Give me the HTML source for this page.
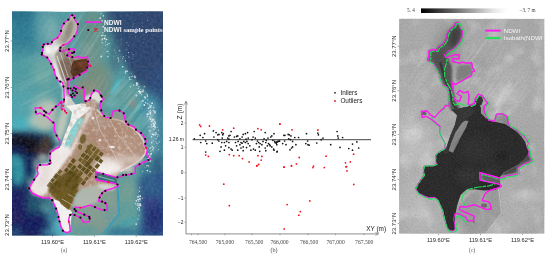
<!DOCTYPE html>
<html><head><meta charset="utf-8"><title>Figure</title>
<style>
html,body{margin:0;padding:0;background:#fff;}
body{width:550px;height:259px;overflow:hidden;font-family:"Liberation Sans",sans-serif;}
svg{display:block;}
text{font-family:"Liberation Sans",sans-serif;}
.ser{font-family:"Liberation Serif",serif;}
</style></head><body>
<svg width="550" height="259" viewBox="0 0 550 259">
<defs>
<filter id="b1" x="-50%" y="-50%" width="200%" height="200%"><feGaussianBlur stdDeviation="1"/></filter>
<filter id="b2" x="-50%" y="-50%" width="200%" height="200%"><feGaussianBlur stdDeviation="2"/></filter>
<filter id="b3" x="-50%" y="-50%" width="200%" height="200%"><feGaussianBlur stdDeviation="3"/></filter>
<filter id="b5" x="-50%" y="-50%" width="200%" height="200%"><feGaussianBlur stdDeviation="5"/></filter>
<filter id="b8" x="-50%" y="-50%" width="200%" height="200%"><feGaussianBlur stdDeviation="8"/></filter>
<filter id="b05" x="-50%" y="-50%" width="200%" height="200%"><feGaussianBlur stdDeviation="0.5"/></filter>
<filter id="noiseA" x="0" y="0" width="100%" height="100%"><feTurbulence type="fractalNoise" baseFrequency="0.35" numOctaves="3" seed="3"/><feColorMatrix type="matrix" values="0 0 0 0 0.5  0 0 0 0 0.5  0 0 0 0 0.5  1.2 0 0 0 -0.35"/></filter>
<filter id="noiseC" x="0" y="0" width="100%" height="100%"><feTurbulence type="fractalNoise" baseFrequency="0.6" numOctaves="2" seed="11"/><feColorMatrix type="matrix" values="0 0 0 0 1  0 0 0 0 1  0 0 0 0 1  1.4 0 0 0 -0.55"/></filter>
<filter id="noiseD" x="0" y="0" width="100%" height="100%"><feTurbulence type="fractalNoise" baseFrequency="0.6" numOctaves="2" seed="5"/><feColorMatrix type="matrix" values="0 0 0 0 0  0 0 0 0 0  0 0 0 0 0  1.4 0 0 0 -0.55"/></filter>
<filter id="streak" x="0" y="0" width="100%" height="100%"><feTurbulence type="fractalNoise" baseFrequency="0.012 0.30" numOctaves="2" seed="8"/><feColorMatrix type="matrix" values="0 0 0 0 0.92  0 0 0 0 0.96  0 0 0 0 0.94  2.6 0 0 0 -1.15"/></filter>
<filter id="streakD" x="0" y="0" width="100%" height="100%"><feTurbulence type="fractalNoise" baseFrequency="0.015 0.35" numOctaves="2" seed="4"/><feColorMatrix type="matrix" values="0 0 0 0 0.80  0 0 0 0 0.92  0 0 0 0 0.90  2.6 0 0 0 -1.2"/></filter>
<mask id="mStreak"><rect width="550" height="259" fill="#000"/><ellipse cx="82" cy="40" rx="22" ry="26" fill="#fff" filter="url(#b5)"/><ellipse cx="95" cy="85" rx="14" ry="20" fill="#777" filter="url(#b5)"/><ellipse cx="50" cy="40" rx="12" ry="20" fill="#aaa" filter="url(#b5)"/></mask>
<mask id="mStreak2"><rect width="550" height="259" fill="#000"/><ellipse cx="38" cy="85" rx="22" ry="30" fill="#fff" filter="url(#b5)"/></mask>
<mask id="mStreak3"><rect width="550" height="259" fill="#000"/><ellipse cx="126" cy="98" rx="16" ry="18" fill="#fff" filter="url(#b5)"/><ellipse cx="140" cy="120" rx="16" ry="14" fill="#ccc" filter="url(#b5)"/></mask>
<filter id="mottleLand" x="0" y="0" width="100%" height="100%"><feTurbulence type="fractalNoise" baseFrequency="0.22" numOctaves="3" seed="9"/><feColorMatrix type="matrix" values="0 0 0 0 0.42  0 0 0 0 0.30  0 0 0 0 0.22  2.4 0 0 0 -1.05"/></filter>
<filter id="mottleLandW" x="0" y="0" width="100%" height="100%"><feTurbulence type="fractalNoise" baseFrequency="0.28" numOctaves="3" seed="31"/><feColorMatrix type="matrix" values="0 0 0 0 0.96  0 0 0 0 0.92  0 0 0 0 0.90  2.4 0 0 0 -1.2"/></filter>
<filter id="streakK" x="0" y="0" width="100%" height="100%"><feTurbulence type="fractalNoise" baseFrequency="0.015 0.33" numOctaves="2" seed="19"/><feColorMatrix type="matrix" values="0 0 0 0 0.20  0 0 0 0 0.33  0 0 0 0 0.33  2.6 0 0 0 -1.15"/></filter>
<mask id="mStreak4"><rect width="550" height="259" fill="#000"/><ellipse cx="97" cy="72" rx="15" ry="32" fill="#fff" filter="url(#b5)"/><ellipse cx="120" cy="100" rx="16" ry="12" fill="#aaa" filter="url(#b5)"/></mask>
<clipPath id="clipA"><rect x="12" y="11.6" width="151" height="223.8"/></clipPath>
<filter id="streakC" x="0" y="0" width="100%" height="100%"><feTurbulence type="fractalNoise" baseFrequency="0.012 0.30" numOctaves="2" seed="15"/><feColorMatrix type="matrix" values="0 0 0 0 0.85  0 0 0 0 0.85  0 0 0 0 0.85  2.6 0 0 0 -1.15"/></filter>
<mask id="mStreakC"><rect width="550" height="259" fill="#000"/><ellipse cx="480" cy="60" rx="30" ry="32" fill="#fff" filter="url(#b5)"/><ellipse cx="505" cy="95" rx="22" ry="22" fill="#fff" filter="url(#b5)"/><ellipse cx="425" cy="80" rx="18" ry="28" fill="#999" filter="url(#b5)"/></mask>
<filter id="mottleW" x="0" y="0" width="100%" height="100%"><feTurbulence type="fractalNoise" baseFrequency="0.045" numOctaves="3" seed="23"/><feColorMatrix type="matrix" values="0 0 0 0 0.82  0 0 0 0 0.82  0 0 0 0 0.82  2.2 0 0 0 -1.05"/></filter>
<filter id="mottleK" x="0" y="0" width="100%" height="100%"><feTurbulence type="fractalNoise" baseFrequency="0.05" numOctaves="3" seed="41"/><feColorMatrix type="matrix" values="0 0 0 0 0.35  0 0 0 0 0.35  0 0 0 0 0.35  2.2 0 0 0 -1.1"/></filter>
<clipPath id="clipLand"><polygon points="57.0,149.0 61.0,146.0 65.0,134.0 70.0,122.0 74.0,110.0 76.0,105.0 81.0,103.5 84.0,103.0 85.5,101.0 88.0,99.6 90.5,102.0 92.0,99.8 95.0,100.0 97.0,104.0 97.0,110.0 102.0,115.0 108.0,118.0 115.0,119.5 122.0,121.0 128.0,125.0 134.0,129.0 139.0,134.0 143.0,140.0 145.0,146.0 146.5,150.0 145.0,154.0 142.0,158.0 135.0,163.5 128.0,167.5 121.0,171.0 117.0,176.0 116.0,182.0 117.0,186.0 112.0,190.0 100.0,190.5 90.0,189.0 82.0,189.5 76.0,195.0 72.5,205.0 70.5,215.0 70.0,222.0 70.0,231.0 67.0,232.6 63.0,231.0 61.0,227.0 59.0,220.0 57.0,211.0 54.6,205.0 52.0,200.0 49.0,197.6 43.0,198.0 38.0,196.0 32.0,193.0 29.0,188.0 31.0,184.0 35.0,178.0 38.0,174.0 37.0,169.0 38.0,165.0 47.0,164.7 51.0,163.0 50.0,160.0 50.0,153.0 55.0,149.0"/></clipPath>
<clipPath id="clipC"><rect x="399.1" y="18.8" width="145.4" height="214.9"/></clipPath>
<linearGradient id="cbar" x1="0" x2="1" y1="0" y2="0"><stop offset="0" stop-color="#000"/><stop offset="0.85" stop-color="#e8e8e8"/><stop offset="1" stop-color="#fff"/></linearGradient>
</defs>
<rect width="550" height="259" fill="#fff"/>
<g clip-path="url(#clipA)">
<rect x="12" y="11.6" width="151" height="223.8" fill="#4f9aa0"/>
<ellipse cx="22" cy="28" rx="22" ry="32" fill="#2a7a92" filter="url(#b8)" opacity="1"/>
<ellipse cx="16" cy="14" rx="18" ry="8" fill="#236d88" filter="url(#b5)" opacity="1"/>
<ellipse cx="46" cy="28" rx="10" ry="22" fill="#5a9ea6" filter="url(#b5)" opacity="1"/>
<ellipse cx="52" cy="30" rx="6" ry="12" fill="#78aeb0" filter="url(#b3)" opacity="0.8"/>
<ellipse cx="24" cy="70" rx="16" ry="18" fill="#4a9aa0" filter="url(#b8)" opacity="1"/>
<ellipse cx="44" cy="72" rx="12" ry="16" fill="#66a6a2" filter="url(#b5)" opacity="1"/>
<ellipse cx="24" cy="104" rx="14" ry="14" fill="#50a2aa" filter="url(#b5)" opacity="1"/>
<ellipse cx="44" cy="104" rx="10" ry="10" fill="#80b0a8" filter="url(#b5)" opacity="1"/>
<ellipse cx="20" cy="124" rx="10" ry="9" fill="#45aebc" filter="url(#b3)" opacity="1"/>
<ellipse cx="40" cy="121" rx="12" ry="7" fill="#a8c8c0" filter="url(#b3)" opacity="1"/>
<ellipse cx="14" cy="105" rx="4" ry="14" fill="#4aa4b0" filter="url(#b3)" opacity="0.7"/>
<ellipse cx="92" cy="36" rx="13" ry="30" fill="#5f8e86" filter="url(#b5)" opacity="1"/>
<ellipse cx="86" cy="50" rx="8" ry="8" fill="#7a9c94" filter="url(#b3)" opacity="0.7"/>
<ellipse cx="97" cy="84" rx="15" ry="24" fill="#6f8c7c" filter="url(#b5)" opacity="1"/>
<ellipse cx="86" cy="89" rx="12" ry="10" fill="#828c7a" filter="url(#b3)" opacity="1"/>
<polygon points="104.0,5.0 170.0,5.0 170.0,112.0 152.0,100.0 136.0,84.0 124.0,62.0 113.0,38.0" fill="#2a4670" filter="url(#b3)" opacity="1" />
<ellipse cx="150" cy="40" rx="22" ry="40" fill="#29436c" filter="url(#b8)" opacity="1"/>
<ellipse cx="158" cy="90" rx="10" ry="26" fill="#2a4a78" filter="url(#b5)" opacity="1"/>
<ellipse cx="115" cy="55" rx="6" ry="18" fill="#3a6478" filter="url(#b3)" opacity="0.7"/>
<ellipse cx="109" cy="25" rx="5" ry="14" fill="#3a6076" filter="url(#b3)" opacity="0.7"/>
<ellipse cx="128" cy="100" rx="20" ry="16" fill="#5a9a9a" filter="url(#b5)" opacity="1"/>
<ellipse cx="150" cy="108" rx="12" ry="14" fill="#3a88a0" filter="url(#b5)" opacity="1"/>
<ellipse cx="116" cy="86" rx="2.2" ry="9" fill="#3ab0c0" filter="url(#b1)" opacity="0.95" transform="rotate(28 116 86)"/>
<ellipse cx="133" cy="104" rx="5" ry="4" fill="#8a8c82" filter="url(#b2)" opacity="0.85"/>
<ellipse cx="139" cy="106" rx="2" ry="6" fill="#4ab4c0" filter="url(#b1)" opacity="0.7" transform="rotate(20 139 106)"/>
<ellipse cx="112" cy="104" rx="8" ry="5" fill="#6fb4b4" filter="url(#b2)" opacity="0.6"/>
<ellipse cx="122" cy="112" rx="10" ry="5" fill="#4a9ca4" filter="url(#b3)" opacity="0.9"/>
<ellipse cx="140" cy="124" rx="8" ry="8" fill="#3a9098" filter="url(#b3)" opacity="1"/>
<ellipse cx="152" cy="135" rx="6" ry="20" fill="#5a9aa8" filter="url(#b3)" opacity="1"/>
<ellipse cx="153.5" cy="128" rx="3.5" ry="26" fill="#9cbcc6" filter="url(#b2)" opacity="0.55" transform="rotate(-6 153.5 128)"/>
<ellipse cx="160" cy="140" rx="4" ry="30" fill="#3a7a98" filter="url(#b3)" opacity="1"/>
<ellipse cx="147" cy="165" rx="7" ry="14" fill="#3a7a90" filter="url(#b3)" opacity="1"/>
<ellipse cx="158" cy="170" rx="6" ry="16" fill="#2a5a80" filter="url(#b3)" opacity="1"/>
<ellipse cx="128" cy="171" rx="9" ry="5" fill="#7a9a90" filter="url(#b2)" opacity="1"/>
<ellipse cx="127" cy="192" rx="11" ry="16" fill="#6f9c92" filter="url(#b5)" opacity="1"/>
<ellipse cx="127" cy="216" rx="11" ry="12" fill="#5f9c98" filter="url(#b5)" opacity="1"/>
<polygon points="139.0,178.0 170.0,172.0 170.0,240.0 136.0,240.0 143.0,216.0 140.0,198.0" fill="#2a4f86" filter="url(#b3)" opacity="1" />
<ellipse cx="152" cy="186" rx="10" ry="12" fill="#2a5a88" filter="url(#b5)" opacity="1"/>
<ellipse cx="155" cy="218" rx="10" ry="16" fill="#1a2a70" filter="url(#b5)" opacity="1"/>
<ellipse cx="150" cy="203" rx="8" ry="6" fill="#343a82" filter="url(#b3)" opacity="0.7"/>
<ellipse cx="122" cy="232" rx="18" ry="4" fill="#2a6a90" filter="url(#b3)" opacity="0.9"/>
<ellipse cx="128" cy="222" rx="10" ry="2.5" fill="#3aa0b0" filter="url(#b2)" opacity="0.8" transform="rotate(-20 128 222)"/>
<polygon points="5.0,133.0 30.0,133.0 44.0,134.0 52.0,138.0 56.0,150.0 48.0,158.0 40.0,160.0 34.0,170.0 30.0,186.0 30.0,196.0 50.0,200.0 56.0,215.0 60.0,240.0 5.0,240.0" fill="#142c58" filter="url(#b3)" opacity="1" />
<ellipse cx="26" cy="145" rx="16" ry="9" fill="#070c14" filter="url(#b3)" opacity="1"/>
<ellipse cx="16" cy="141" rx="7" ry="6" fill="#090f1a" filter="url(#b3)" opacity="1"/>
<ellipse cx="18" cy="150" rx="8" ry="5" fill="#101c58" filter="url(#b3)" opacity="0.9"/>
<ellipse cx="46" cy="144" rx="6" ry="8" fill="#4a3a28" filter="url(#b3)" opacity="0.9"/>
<ellipse cx="42" cy="152" rx="8" ry="4" fill="#5a2c20" filter="url(#b3)" opacity="0.7"/>
<ellipse cx="18" cy="171" rx="8" ry="16" fill="#2c909e" filter="url(#b3)" opacity="1"/>
<ellipse cx="14" cy="160" rx="4" ry="6" fill="#3a9aa8" filter="url(#b2)" opacity="0.8"/>
<ellipse cx="29" cy="165" rx="3.5" ry="10" fill="#102858" filter="url(#b2)" opacity="0.9"/>
<ellipse cx="36" cy="164" rx="3" ry="6" fill="#8a9a98" filter="url(#b2)" opacity="0.8"/>
<ellipse cx="43" cy="158" rx="5.5" ry="4.5" fill="#98a6a4" filter="url(#b2)" opacity="0.9"/>
<ellipse cx="30" cy="183" rx="2.5" ry="5" fill="#6a9a98" filter="url(#b2)" opacity="0.8"/>
<ellipse cx="19" cy="203" rx="10" ry="13" fill="#15175c" filter="url(#b5)" opacity="1"/>
<ellipse cx="34" cy="205" rx="7" ry="10" fill="#1a5a70" filter="url(#b5)" opacity="1"/>
<ellipse cx="46" cy="208" rx="6" ry="8" fill="#4a8a90" filter="url(#b3)" opacity="1"/>
<ellipse cx="34" cy="226" rx="18" ry="10" fill="#10175a" filter="url(#b5)" opacity="1"/>
<ellipse cx="17" cy="218" rx="5" ry="5" fill="#301860" filter="url(#b3)" opacity="0.7"/>
<ellipse cx="50" cy="219" rx="5" ry="5" fill="#2a6a80" filter="url(#b3)" opacity="0.8"/>
<ellipse cx="16" cy="232" rx="6" ry="4" fill="#2a5a80" filter="url(#b3)" opacity="0.8"/>
<ellipse cx="46" cy="117" rx="11" ry="13" fill="#b4bcac" filter="url(#b3)" opacity="0.95"/>
<ellipse cx="50" cy="107" rx="8" ry="5" fill="#c2c8b8" filter="url(#b3)" opacity="0.9"/>
<ellipse cx="38" cy="110" rx="6" ry="5" fill="#a8c4b8" filter="url(#b3)" opacity="0.8"/>
<ellipse cx="62" cy="124" rx="5" ry="18" fill="#c4cabb" filter="url(#b2)" opacity="0.95" transform="rotate(14 62 124)"/>
<ellipse cx="66" cy="110" rx="5" ry="6" fill="#b8c4b6" filter="url(#b2)" opacity="0.9"/>
<ellipse cx="62" cy="227" rx="11" ry="11" fill="#52b0bd" filter="url(#b3)" opacity="1"/>
<ellipse cx="52" cy="214" rx="4" ry="10" fill="#3f94a8" filter="url(#b3)" opacity="0.8"/>
<ellipse cx="50" cy="232" rx="10" ry="4" fill="#3f9ab0" filter="url(#b3)" opacity="0.8"/>
<polygon points="72.0,205.0 100.0,186.0 117.0,186.0 119.0,214.0 105.0,233.0 75.0,240.0 72.0,232.0" fill="#7f9a8e" filter="url(#b2)" opacity="1" />
<ellipse cx="95" cy="204" rx="20" ry="14" fill="#829c90" filter="url(#b3)" opacity="1"/>
<ellipse cx="88" cy="200" rx="12" ry="5" fill="#98aea6" filter="url(#b2)" opacity="0.8"/>
<ellipse cx="110" cy="215" rx="6" ry="10" fill="#6a9a98" filter="url(#b3)" opacity="0.8"/>
<ellipse cx="85" cy="231" rx="14" ry="5" fill="#5a9a9a" filter="url(#b3)" opacity="0.9"/>
<polyline points="117.5,186.0 119.0,214.0 104.0,233.0" fill="none" stroke="#3a9ab0" stroke-width="2.2" stroke-linecap="round" stroke-linejoin="round" filter="url(#b05)" opacity="1"/>
<g mask="url(#mStreak)"><rect x="-120" y="-120" width="400" height="400" filter="url(#streak)" transform="rotate(-58 70 60)" opacity="0.22"/></g>
<g mask="url(#mStreak2)"><rect x="-120" y="-120" width="400" height="400" filter="url(#streak)" transform="rotate(-25 40 80)" opacity="0.18"/></g>
<g mask="url(#mStreak3)"><rect x="-120" y="-120" width="400" height="400" filter="url(#streakD)" transform="rotate(-50 120 80)" opacity="0.38"/></g>
<g mask="url(#mStreak4)"><rect x="-120" y="-120" width="400" height="400" filter="url(#streakK)" transform="rotate(-55 95 75)" opacity="0.5"/></g>
<polygon points="70.0,15.6 74.0,15.0 75.0,20.0 78.0,24.0 77.0,30.0 75.0,35.0 71.0,40.0 67.0,44.0 63.0,47.0 62.0,52.0 64.0,56.0 67.0,62.0 67.0,78.0 68.5,86.0 70.0,94.0 72.0,100.0 76.0,105.0 70.0,108.0 65.0,106.0 64.0,98.0 63.5,88.0 62.0,83.0 58.0,81.0 55.0,75.0 54.0,70.0 51.0,64.0 50.0,62.0 47.0,57.0 42.0,55.0 43.0,50.0 43.0,45.0 46.0,44.0 51.0,44.0 53.0,40.5 57.0,38.0 60.6,33.0 62.0,27.0 64.6,22.5 69.0,19.0" fill="#cdcdc9" filter="url(#b05)" opacity="1" />
<polygon points="70.0,15.6 74.0,15.0 75.0,20.0 78.0,24.0 77.0,30.0 75.0,35.0 71.0,40.0 67.0,44.0 62.0,46.0 57.0,44.0 57.0,38.0 60.6,33.0 62.0,27.0 64.6,22.5 69.0,19.0" fill="#b2b4a6" filter="url(#b1)" opacity="0.95" />
<ellipse cx="69" cy="30" rx="3.2" ry="10" fill="#8a8476" filter="url(#b1)" opacity="0.9" transform="rotate(18 69 30)"/>
<ellipse cx="64" cy="39" rx="3" ry="4" fill="#a09c8e" filter="url(#b1)" opacity="0.8"/>
<ellipse cx="66" cy="38" rx="2" ry="5" fill="#98928a" filter="url(#b1)" opacity="0.7" transform="rotate(30 66 38)"/>
<ellipse cx="55" cy="50" rx="8" ry="5" fill="#ececec" filter="url(#b2)" opacity="1"/>
<ellipse cx="48" cy="50" rx="3" ry="4" fill="#f4f4f4" filter="url(#b1)" opacity="1"/>
<ellipse cx="60" cy="74" rx="3.5" ry="16" fill="#f2f2f2" filter="url(#b1)" opacity="1" transform="rotate(-17 60 74)"/>
<ellipse cx="65" cy="94" rx="2.5" ry="10" fill="#f4f4f4" filter="url(#b1)" opacity="1"/>
<polygon points="58.0,50.0 64.0,46.0 70.0,48.5 74.0,50.0 74.0,56.0 88.0,57.0 90.0,66.0 80.0,75.0 70.0,80.0 69.0,96.0 66.0,96.0 64.0,84.0 60.0,74.0 56.0,62.0 55.0,54.0" fill="#979184" filter="url(#b1)" opacity="1" />
<polygon points="58.5,62.0 66.0,57.5 74.0,59.0 76.0,70.0 70.0,80.0 66.0,82.0 62.0,76.0" fill="#7c6454" filter="url(#b1)" opacity="0.9" />
<polyline points="57.0,56.0 66.0,82.0" fill="none" stroke="#e4e4e0" stroke-width="1.2" stroke-linecap="round" stroke-linejoin="round" filter="url(#b05)" opacity="0.8"/>
<polyline points="60.0,52.0 69.0,79.0" fill="none" stroke="#dcdcd6" stroke-width="0.8" stroke-linecap="round" stroke-linejoin="round" filter="url(#b05)" opacity="0.7"/>
<polyline points="63.0,50.0 72.0,76.0" fill="none" stroke="#756354" stroke-width="1.0" stroke-linecap="round" stroke-linejoin="round" filter="url(#b05)" opacity="0.7"/>
<polyline points="66.0,50.0 74.0,70.0" fill="none" stroke="#c8c4bc" stroke-width="0.8" stroke-linecap="round" stroke-linejoin="round" filter="url(#b05)" opacity="0.65"/>
<polyline points="69.0,52.0 76.0,68.0" fill="none" stroke="#806c5c" stroke-width="0.9" stroke-linecap="round" stroke-linejoin="round" filter="url(#b05)" opacity="0.6"/>
<polyline points="72.0,54.0 78.0,66.0" fill="none" stroke="#bcb6ac" stroke-width="0.7" stroke-linecap="round" stroke-linejoin="round" filter="url(#b05)" opacity="0.55"/>
<polyline points="61.0,60.0 66.0,74.0" fill="none" stroke="#6e6052" stroke-width="0.8" stroke-linecap="round" stroke-linejoin="round" filter="url(#b05)" opacity="0.5"/>
<polygon points="74.0,60.5 87.0,58.5 89.0,66.0 86.0,71.0 73.0,77.5 70.5,72.0 72.0,64.0" fill="#57301f" filter="url(#b05)" opacity="1" />
<ellipse cx="82" cy="64" rx="5" ry="4" fill="#6a3823" filter="url(#b1)" opacity="1"/>
<ellipse cx="78" cy="71" rx="4" ry="3" fill="#4a2a1c" filter="url(#b1)" opacity="0.8"/>
<polygon points="84.0,101.0 86.0,96.0 91.0,94.0 95.0,91.0 99.0,92.0 102.0,97.0 103.0,100.0 100.0,103.0 97.0,104.0 95.0,100.0 92.0,100.0 88.0,100.0" fill="#e6e4de" filter="url(#b1)" opacity="0.95" />
<polygon points="98.0,100.0 100.1,106.0 102.1,113.1 105.1,117.1 111.2,118.1 113.2,111.0 119.2,110.4 123.8,113.1 125.2,120.1 127.2,124.1 134.3,127.1 141.3,133.1 146.3,141.2 143.0,141.0 134.0,130.0 122.0,122.0 108.0,119.0 98.0,111.0" fill="#8b9c92" filter="url(#b1)" opacity="0.9" />
<polygon points="57.0,149.0 61.0,146.0 65.0,134.0 70.0,122.0 74.0,110.0 76.0,105.0 81.0,103.5 84.0,103.0 85.5,101.0 88.0,99.6 90.5,102.0 92.0,99.8 95.0,100.0 97.0,104.0 97.0,110.0 102.0,115.0 108.0,118.0 115.0,119.5 122.0,121.0 128.0,125.0 134.0,129.0 139.0,134.0 143.0,140.0 145.0,146.0 146.5,150.0 145.0,154.0 142.0,158.0 135.0,163.5 128.0,167.5 121.0,171.0 117.0,176.0 116.0,182.0 117.0,186.0 112.0,190.0 100.0,190.5 90.0,189.0 82.0,189.5 76.0,195.0 72.5,205.0 70.5,215.0 70.0,222.0 70.0,231.0 67.0,232.6 63.0,231.0 61.0,227.0 59.0,220.0 57.0,211.0 54.6,205.0 52.0,200.0 49.0,197.6 43.0,198.0 38.0,196.0 32.0,193.0 29.0,188.0 31.0,184.0 35.0,178.0 38.0,174.0 37.0,169.0 38.0,165.0 47.0,164.7 51.0,163.0 50.0,160.0 50.0,153.0 55.0,149.0" fill="#b08c78" filter="url(#b05)" opacity="1" />
<polygon points="66.0,106.0 76.0,104.5 81.0,103.5 88.0,104.5 90.5,108.0 86.0,113.0 80.0,117.5 76.5,122.0 73.0,130.0 69.5,140.0 66.0,150.0 60.0,152.0 57.0,150.0 61.0,146.0 65.0,134.0 70.0,122.0 72.0,112.0" fill="#f4f4f2" filter="url(#b05)" opacity="1" />
<polygon points="77.5,119.5 81.0,117.5 84.0,118.0 81.5,125.0 76.0,135.0 71.0,145.0 68.0,151.0 63.5,149.0 66.0,141.0 70.5,130.0" fill="#84d4d4" filter="url(#b05)" opacity="1" />
<polygon points="68.0,153.0 72.0,144.0 77.0,134.0 82.0,124.0 85.0,116.0 89.0,108.0 93.0,106.0 92.0,113.0 87.0,124.0 81.0,136.0 74.0,150.0 71.0,155.0" fill="#efeae6" filter="url(#b1)" opacity="0.8" />
<polyline points="97.0,110.0 102.0,115.0 108.0,118.0 115.0,119.5 122.0,121.0 128.0,125.0 134.0,129.0 139.0,134.0 143.0,140.0 145.0,146.0 146.5,150.0 145.0,154.0 142.0,158.0 135.0,163.5 128.0,167.5 121.0,171.0" fill="none" stroke="#ece2dc" stroke-width="1.6" stroke-linecap="round" stroke-linejoin="round" filter="url(#b05)" opacity="0.9"/>
<ellipse cx="93.5" cy="104" rx="2.5" ry="4" fill="#bfa698" filter="url(#b05)" opacity="1"/>
<ellipse cx="88" cy="103.5" rx="2" ry="3.5" fill="#bca497" filter="url(#b05)" opacity="1"/>
<ellipse cx="108" cy="137" rx="26" ry="18" fill="#ad8772" filter="url(#b5)" opacity="1"/>
<ellipse cx="126" cy="146" rx="12" ry="10" fill="#b6927e" filter="url(#b3)" opacity="1"/>
<ellipse cx="100" cy="122" rx="9" ry="6" fill="#b09484" filter="url(#b3)" opacity="1"/>
<ellipse cx="112" cy="147" rx="3" ry="1.3" fill="#f6f2f0" filter="url(#b05)" opacity="1"/>
<ellipse cx="100" cy="140" rx="1.5" ry="1.5" fill="#f6f2f0" filter="url(#b05)" opacity="1"/>
<ellipse cx="93" cy="118" rx="1.5" ry="1.5" fill="#efe6e2" filter="url(#b05)" opacity="1"/>
<g clip-path="url(#clipLand)"><rect x="28" y="98" width="125" height="138" filter="url(#mottleLand)" opacity="0.55"/><rect x="28" y="98" width="125" height="138" filter="url(#mottleLandW)" opacity="0.5"/></g>
<polyline points="95.0,112.0 100.0,130.0 112.0,150.0 118.0,162.0" fill="none" stroke="#e8dad2" stroke-width="0.7" stroke-linecap="round" stroke-linejoin="round" filter="url(#b05)" opacity="0.8"/>
<polyline points="110.0,120.0 118.0,135.0 130.0,150.0" fill="none" stroke="#e8dad2" stroke-width="0.6" stroke-linecap="round" stroke-linejoin="round" filter="url(#b05)" opacity="0.7"/>
<polyline points="86.0,150.0 100.0,146.0 125.0,156.0" fill="none" stroke="#e8dad2" stroke-width="0.6" stroke-linecap="round" stroke-linejoin="round" filter="url(#b05)" opacity="0.6"/>
<polyline points="120.0,122.0 124.0,140.0 136.0,158.0" fill="none" stroke="#e8dad2" stroke-width="0.5" stroke-linecap="round" stroke-linejoin="round" filter="url(#b05)" opacity="0.55"/>
<ellipse cx="108" cy="167" rx="15" ry="8" fill="#f4efec" filter="url(#b2)" opacity="1"/>
<ellipse cx="104" cy="172" rx="8" ry="5" fill="#f6f2f0" filter="url(#b2)" opacity="0.9"/>
<ellipse cx="104" cy="160" rx="8" ry="4" fill="#e6dad4" filter="url(#b2)" opacity="0.8"/>
<ellipse cx="122" cy="160" rx="10" ry="5" fill="#decfc8" filter="url(#b3)" opacity="0.8"/>
<ellipse cx="136" cy="160" rx="8" ry="5" fill="#d6c4ba" filter="url(#b2)" opacity="0.8"/>
<ellipse cx="128" cy="169" rx="6" ry="3" fill="#eaded8" filter="url(#b2)" opacity="0.8"/>
<polygon points="57.0,147.0 68.0,146.0 72.0,152.0 62.0,166.0 54.0,178.0 48.0,192.0 40.0,196.0 30.0,189.0 36.0,177.0 38.0,165.0 50.0,163.0 50.0,153.0" fill="#f3eeec" filter="url(#b1)" opacity="0.97" />
<polygon points="52.0,191.0 58.0,178.0 68.0,165.0 78.0,152.0 86.0,143.0 94.0,141.0 100.0,149.0 97.0,161.0 89.0,172.0 81.0,184.0 73.0,196.0 62.0,200.0 55.0,198.0" fill="#a58c6c" filter="url(#b1)" opacity="0.9" />
<polygon points="47.5,190.0 52.0,183.5 58.0,178.0 66.0,172.0 74.0,170.0 80.0,176.0 78.0,188.0 73.0,200.0 68.5,210.0 62.0,206.0 56.0,199.5" fill="#5e4a12" filter="url(#b1)" opacity="0.88" />
<rect x="46.8" y="182.8" width="5.5" height="3.7" fill="#5a4812" transform="rotate(-51 49.6 184.6)" opacity="0.95"/>
<rect x="50.7" y="185.5" width="3.9" height="3.2" fill="#544410" transform="rotate(-51 52.7 187.1)" opacity="0.95"/>
<rect x="53.5" y="188.7" width="4.8" height="3.0" fill="#62501a" transform="rotate(-51 55.9 190.2)" opacity="0.95"/>
<rect x="57.1" y="191.1" width="4.5" height="3.8" fill="#5a4812" transform="rotate(-51 59.4 193.0)" opacity="0.95"/>
<rect x="60.7" y="193.2" width="3.8" height="3.9" fill="#62501a" transform="rotate(-51 62.6 195.1)" opacity="0.95"/>
<rect x="64.1" y="195.9" width="4.1" height="3.3" fill="#62501a" transform="rotate(-51 66.1 197.6)" opacity="0.95"/>
<rect x="66.6" y="198.6" width="5.5" height="3.7" fill="#6a5620" transform="rotate(-51 69.4 200.4)" opacity="0.95"/>
<rect x="50.5" y="178.7" width="4.1" height="3.1" fill="#544410" transform="rotate(-51 52.5 180.3)" opacity="0.95"/>
<rect x="53.7" y="181.4" width="5.1" height="3.1" fill="#544410" transform="rotate(-51 56.2 182.9)" opacity="0.95"/>
<rect x="57.0" y="183.7" width="4.7" height="3.7" fill="#5a4812" transform="rotate(-51 59.4 185.6)" opacity="0.95"/>
<rect x="61.0" y="186.5" width="4.4" height="3.4" fill="#6a5620" transform="rotate(-51 63.3 188.2)" opacity="0.95"/>
<rect x="64.0" y="189.1" width="3.9" height="3.2" fill="#62501a" transform="rotate(-51 66.0 190.7)" opacity="0.95"/>
<rect x="70.7" y="194.1" width="4.7" height="3.9" fill="#544410" transform="rotate(-51 73.0 196.1)" opacity="0.95"/>
<rect x="53.5" y="174.3" width="5.2" height="3.9" fill="#5a4812" transform="rotate(-51 56.2 176.3)" opacity="0.95"/>
<rect x="57.3" y="176.5" width="4.7" height="3.4" fill="#62501a" transform="rotate(-51 59.7 178.2)" opacity="0.95"/>
<rect x="61.0" y="179.4" width="4.4" height="3.3" fill="#62501a" transform="rotate(-51 63.2 181.0)" opacity="0.95"/>
<rect x="64.3" y="182.2" width="4.4" height="3.5" fill="#5a4812" transform="rotate(-51 66.5 183.9)" opacity="0.95"/>
<rect x="70.4" y="187.2" width="5.1" height="3.3" fill="#544410" transform="rotate(-51 73.0 188.8)" opacity="0.95"/>
<rect x="73.4" y="190.3" width="5.4" height="3.0" fill="#6a5620" transform="rotate(-51 76.1 191.8)" opacity="0.95"/>
<rect x="57.4" y="170.4" width="4.8" height="3.1" fill="#6a5620" transform="rotate(-51 59.8 171.9)" opacity="0.95"/>
<rect x="64.2" y="175.5" width="4.3" height="3.5" fill="#62501a" transform="rotate(-51 66.4 177.2)" opacity="0.95"/>
<rect x="67.2" y="177.8" width="5.1" height="3.5" fill="#544410" transform="rotate(-51 69.7 179.6)" opacity="0.95"/>
<rect x="70.5" y="180.1" width="5.3" height="3.5" fill="#62501a" transform="rotate(-51 73.1 181.8)" opacity="0.95"/>
<rect x="74.4" y="183.2" width="4.0" height="3.3" fill="#544410" transform="rotate(-51 76.4 184.8)" opacity="0.95"/>
<rect x="64.6" y="168.3" width="3.9" height="3.3" fill="#544410" transform="rotate(-51 66.5 170.0)" opacity="0.95"/>
<rect x="67.5" y="170.9" width="5.1" height="4.0" fill="#544410" transform="rotate(-51 70.0 172.9)" opacity="0.95"/>
<rect x="70.7" y="173.3" width="4.8" height="3.3" fill="#544410" transform="rotate(-51 73.1 175.0)" opacity="0.95"/>
<rect x="74.2" y="176.0" width="5.2" height="3.3" fill="#544410" transform="rotate(-51 76.8 177.7)" opacity="0.95"/>
<rect x="77.4" y="178.3" width="5.3" height="3.9" fill="#6a5620" transform="rotate(-51 80.0 180.3)" opacity="0.95"/>
<rect x="81.2" y="181.3" width="4.8" height="3.2" fill="#544410" transform="rotate(-51 83.5 182.9)" opacity="0.95"/>
<rect x="67.5" y="163.7" width="5.1" height="3.7" fill="#62501a" transform="rotate(-51 70.1 165.6)" opacity="0.95"/>
<rect x="70.8" y="166.2" width="5.5" height="3.3" fill="#544410" transform="rotate(-51 73.6 167.9)" opacity="0.95"/>
<rect x="74.0" y="169.2" width="4.6" height="3.7" fill="#62501a" transform="rotate(-51 76.3 171.0)" opacity="0.95"/>
<rect x="77.2" y="171.8" width="5.6" height="4.0" fill="#62501a" transform="rotate(-51 80.0 173.8)" opacity="0.95"/>
<rect x="84.5" y="177.3" width="4.1" height="3.0" fill="#6a5620" transform="rotate(-51 86.5 178.8)" opacity="0.95"/>
<rect x="71.3" y="159.0" width="4.2" height="3.7" fill="#544410" transform="rotate(-51 73.4 160.9)" opacity="0.95"/>
<rect x="78.0" y="164.6" width="4.0" height="3.8" fill="#544410" transform="rotate(-51 80.0 166.6)" opacity="0.95"/>
<rect x="81.3" y="167.3" width="4.3" height="3.5" fill="#544410" transform="rotate(-51 83.5 169.0)" opacity="0.95"/>
<rect x="84.4" y="169.7" width="5.3" height="3.6" fill="#544410" transform="rotate(-51 87.0 171.6)" opacity="0.95"/>
<rect x="87.7" y="173.0" width="4.7" height="3.2" fill="#62501a" transform="rotate(-51 90.0 174.6)" opacity="0.95"/>
<rect x="78.5" y="158.1" width="3.8" height="3.1" fill="#62501a" transform="rotate(-51 80.4 159.7)" opacity="0.95"/>
<rect x="81.6" y="159.9" width="4.6" height="4.0" fill="#6a5620" transform="rotate(-51 83.9 161.9)" opacity="0.95"/>
<rect x="84.4" y="162.5" width="5.5" height="3.9" fill="#544410" transform="rotate(-51 87.2 164.4)" opacity="0.95"/>
<rect x="88.2" y="165.5" width="3.8" height="3.9" fill="#544410" transform="rotate(-51 90.2 167.5)" opacity="0.95"/>
<rect x="91.6" y="168.4" width="4.0" height="3.6" fill="#6a5620" transform="rotate(-51 93.6 170.2)" opacity="0.95"/>
<rect x="81.1" y="153.5" width="4.5" height="3.5" fill="#544410" transform="rotate(-51 83.4 155.2)" opacity="0.95"/>
<rect x="84.6" y="155.6" width="4.7" height="3.8" fill="#544410" transform="rotate(-51 86.9 157.6)" opacity="0.95"/>
<rect x="88.0" y="158.5" width="5.0" height="3.6" fill="#5a4812" transform="rotate(-51 90.5 160.3)" opacity="0.95"/>
<rect x="94.7" y="164.1" width="4.9" height="3.7" fill="#5a4812" transform="rotate(-51 97.2 165.9)" opacity="0.95"/>
<rect x="84.9" y="149.3" width="4.9" height="3.0" fill="#544410" transform="rotate(-51 87.3 150.9)" opacity="0.95"/>
<rect x="88.0" y="151.5" width="5.0" height="3.2" fill="#6a5620" transform="rotate(-51 90.5 153.1)" opacity="0.95"/>
<rect x="91.4" y="154.3" width="5.1" height="3.6" fill="#6a5620" transform="rotate(-51 94.0 156.1)" opacity="0.95"/>
<rect x="95.0" y="156.6" width="5.0" height="3.7" fill="#544410" transform="rotate(-51 97.5 158.5)" opacity="0.95"/>
<rect x="98.8" y="159.2" width="3.8" height="3.8" fill="#544410" transform="rotate(-51 100.7 161.1)" opacity="0.95"/>
<rect x="88.6" y="144.4" width="4.1" height="3.7" fill="#6a5620" transform="rotate(-51 90.6 146.3)" opacity="0.95"/>
<rect x="91.7" y="147.4" width="4.8" height="3.0" fill="#62501a" transform="rotate(-51 94.1 148.9)" opacity="0.95"/>
<rect x="94.3" y="150.1" width="5.5" height="3.3" fill="#6a5620" transform="rotate(-51 97.0 151.7)" opacity="0.95"/>
<rect x="99.2" y="152.2" width="3.9" height="3.8" fill="#62501a" transform="rotate(-51 101.1 154.1)" opacity="0.95"/>
<ellipse cx="83" cy="139" rx="3" ry="5" fill="#6a5a24" filter="url(#b05)" opacity="0.9" transform="rotate(15 83 139)"/>
<ellipse cx="88.5" cy="149" rx="2" ry="4" fill="#6a5a24" filter="url(#b05)" opacity="0.9"/>
<ellipse cx="80" cy="147" rx="2" ry="3" fill="#6a5a24" filter="url(#b05)" opacity="0.8"/>
<ellipse cx="43" cy="181" rx="5" ry="11" fill="#e6dcd8" filter="url(#b2)" opacity="0.9" transform="rotate(28 43 181)"/>
<ellipse cx="39" cy="190" rx="7" ry="4.5" fill="#eee8e4" filter="url(#b2)" opacity="1"/>
<ellipse cx="45" cy="168" rx="6" ry="3.5" fill="#e4dad6" filter="url(#b2)" opacity="0.8"/>
<ellipse cx="54" cy="156" rx="3.5" ry="6" fill="#ebe4e0" filter="url(#b2)" opacity="0.85"/>
<polygon points="50.0,198.0 62.0,202.0 72.0,212.0 70.0,231.0 67.0,232.6 63.0,231.0 59.0,220.0 55.0,206.0" fill="#f5f3f1" filter="url(#b05)" opacity="1" />
<polygon points="54.0,193.0 66.0,190.0 76.0,190.0 73.0,200.0 68.5,210.0 61.0,204.0" fill="#69551f" filter="url(#b05)" opacity="0.92" />
<polyline points="62.0,199.0 74.0,206.0" fill="none" stroke="#e8dcd4" stroke-width="0.8" stroke-linecap="round" stroke-linejoin="round" filter="url(#b05)" opacity="0.7"/>
<polyline points="68.0,194.0 78.0,200.0" fill="none" stroke="#e8dcd4" stroke-width="0.7" stroke-linecap="round" stroke-linejoin="round" filter="url(#b05)" opacity="0.6"/>
<polygon points="82.0,188.0 92.0,185.5 104.0,184.5 115.0,182.0 117.0,186.0 108.0,190.0 100.0,196.0 98.0,201.0 90.0,205.0 81.0,207.7 75.0,207.0 73.0,204.0 76.0,195.0" fill="#b4b9ae" filter="url(#b1)" opacity="0.92" />
<polygon points="96.0,172.0 116.3,177.6 117.2,184.2 96.4,179.4" fill="#346a70" opacity="1" />
<polyline points="99.0,176.4 114.0,180.6" fill="none" stroke="#8fc0bc" stroke-width="1.2" stroke-linecap="round" stroke-linejoin="round" filter="url(#b05)" opacity="0.75"/>
<ellipse cx="106" cy="187" rx="9" ry="3" fill="#d8dcd6" filter="url(#b1)" opacity="0.8" transform="rotate(12 106 187)"/>
</g>
<rect x="12" y="11.6" width="151" height="223.8" filter="url(#noiseA)" opacity="0.22"/>
<circle cx="108.0" cy="51.2" r="0.68" fill="#eef4f6" opacity="0.72"/>
<circle cx="107.9" cy="56.5" r="0.78" fill="#eef4f6" opacity="0.73"/>
<circle cx="102.3" cy="34.9" r="0.30" fill="#eef4f6" opacity="0.67"/>
<circle cx="102.9" cy="32.7" r="0.78" fill="#eef4f6" opacity="0.60"/>
<circle cx="104.6" cy="38.6" r="0.90" fill="#eef4f6" opacity="0.83"/>
<circle cx="104.5" cy="22.5" r="0.32" fill="#eef4f6" opacity="0.65"/>
<circle cx="102.9" cy="35.3" r="0.87" fill="#eef4f6" opacity="0.67"/>
<circle cx="109.0" cy="53.7" r="0.37" fill="#eef4f6" opacity="0.92"/>
<circle cx="101.9" cy="40.0" r="0.51" fill="#eef4f6" opacity="0.72"/>
<circle cx="104.7" cy="38.1" r="0.82" fill="#eef4f6" opacity="0.61"/>
<circle cx="103.1" cy="26.6" r="0.88" fill="#eef4f6" opacity="0.90"/>
<circle cx="101.1" cy="13.8" r="0.65" fill="#eef4f6" opacity="0.83"/>
<circle cx="107.2" cy="44.6" r="0.80" fill="#eef4f6" opacity="0.59"/>
<circle cx="106.4" cy="22.3" r="0.55" fill="#eef4f6" opacity="0.66"/>
<circle cx="102.4" cy="39.0" r="0.90" fill="#eef4f6" opacity="0.67"/>
<circle cx="105.1" cy="35.8" r="0.73" fill="#eef4f6" opacity="0.95"/>
<circle cx="101.5" cy="35.7" r="0.63" fill="#eef4f6" opacity="0.84"/>
<circle cx="106.9" cy="51.8" r="0.63" fill="#eef4f6" opacity="0.78"/>
<circle cx="105.5" cy="41.8" r="0.51" fill="#eef4f6" opacity="0.92"/>
<circle cx="104.2" cy="49.1" r="0.48" fill="#eef4f6" opacity="0.55"/>
<circle cx="109.0" cy="43.6" r="0.77" fill="#eef4f6" opacity="0.67"/>
<circle cx="100.2" cy="18.1" r="0.84" fill="#eef4f6" opacity="0.93"/>
<circle cx="101.3" cy="56.5" r="0.88" fill="#eef4f6" opacity="0.77"/>
<circle cx="104.6" cy="25.0" r="0.53" fill="#eef4f6" opacity="0.61"/>
<circle cx="104.2" cy="29.7" r="0.34" fill="#eef4f6" opacity="0.86"/>
<circle cx="102.4" cy="20.8" r="0.80" fill="#eef4f6" opacity="0.52"/>
<circle cx="105.4" cy="45.3" r="0.55" fill="#eef4f6" opacity="0.58"/>
<circle cx="106.5" cy="39.5" r="0.84" fill="#eef4f6" opacity="0.94"/>
<circle cx="101.9" cy="20.8" r="0.45" fill="#eef4f6" opacity="0.93"/>
<circle cx="100.0" cy="32.3" r="0.32" fill="#eef4f6" opacity="0.60"/>
<circle cx="103.4" cy="15.8" r="0.83" fill="#eef4f6" opacity="0.77"/>
<circle cx="102.4" cy="42.7" r="0.81" fill="#eef4f6" opacity="0.64"/>
<circle cx="125.6" cy="71.3" r="0.76" fill="#eef4f6" opacity="0.50"/>
<circle cx="115.5" cy="53.1" r="0.31" fill="#eef4f6" opacity="0.77"/>
<circle cx="118.5" cy="59.9" r="0.65" fill="#eef4f6" opacity="0.62"/>
<circle cx="130.4" cy="86.5" r="0.84" fill="#eef4f6" opacity="0.56"/>
<circle cx="129.9" cy="73.8" r="0.32" fill="#eef4f6" opacity="0.70"/>
<circle cx="137.8" cy="84.3" r="0.69" fill="#eef4f6" opacity="0.56"/>
<circle cx="125.3" cy="71.0" r="0.60" fill="#eef4f6" opacity="0.60"/>
<circle cx="131.2" cy="76.5" r="0.53" fill="#eef4f6" opacity="0.82"/>
<circle cx="127.0" cy="71.5" r="0.73" fill="#eef4f6" opacity="0.89"/>
<circle cx="120.4" cy="56.4" r="0.30" fill="#eef4f6" opacity="0.71"/>
<circle cx="134.2" cy="76.1" r="0.41" fill="#eef4f6" opacity="0.82"/>
<circle cx="135.1" cy="85.5" r="0.49" fill="#eef4f6" opacity="0.52"/>
<circle cx="129.3" cy="77.5" r="0.84" fill="#eef4f6" opacity="0.63"/>
<circle cx="125.4" cy="73.1" r="0.87" fill="#eef4f6" opacity="0.54"/>
<circle cx="122.8" cy="66.8" r="0.74" fill="#eef4f6" opacity="0.94"/>
<circle cx="133.6" cy="85.2" r="0.62" fill="#eef4f6" opacity="0.75"/>
<circle cx="134.7" cy="76.5" r="0.89" fill="#eef4f6" opacity="0.66"/>
<circle cx="138.8" cy="98.5" r="0.36" fill="#eef4f6" opacity="0.53"/>
<circle cx="135.1" cy="77.4" r="0.76" fill="#eef4f6" opacity="0.70"/>
<circle cx="127.1" cy="70.9" r="0.69" fill="#eef4f6" opacity="0.70"/>
<circle cx="125.5" cy="72.1" r="0.54" fill="#eef4f6" opacity="0.60"/>
<circle cx="131.5" cy="73.7" r="0.45" fill="#eef4f6" opacity="0.82"/>
<circle cx="122.5" cy="58.5" r="0.57" fill="#eef4f6" opacity="0.61"/>
<circle cx="129.8" cy="79.6" r="0.68" fill="#eef4f6" opacity="0.93"/>
<circle cx="132.7" cy="76.1" r="0.60" fill="#eef4f6" opacity="0.82"/>
<circle cx="125.5" cy="60.9" r="0.68" fill="#eef4f6" opacity="0.84"/>
<circle cx="118.1" cy="58.0" r="0.72" fill="#eef4f6" opacity="0.81"/>
<circle cx="138.5" cy="91.4" r="0.53" fill="#eef4f6" opacity="0.78"/>
<circle cx="119.6" cy="50.7" r="0.89" fill="#eef4f6" opacity="0.50"/>
<circle cx="131.1" cy="79.3" r="0.53" fill="#eef4f6" opacity="0.57"/>
<circle cx="141.6" cy="94.8" r="0.51" fill="#eef4f6" opacity="0.92"/>
<circle cx="138.3" cy="88.5" r="0.38" fill="#eef4f6" opacity="0.93"/>
<circle cx="139.9" cy="91.5" r="0.53" fill="#eef4f6" opacity="0.79"/>
<circle cx="139.4" cy="91.3" r="0.97" fill="#eef4f6" opacity="0.64"/>
<circle cx="150.9" cy="106.5" r="0.41" fill="#eef4f6" opacity="0.81"/>
<circle cx="149.2" cy="101.9" r="0.49" fill="#eef4f6" opacity="0.67"/>
<circle cx="143.6" cy="91.0" r="0.61" fill="#eef4f6" opacity="0.78"/>
<circle cx="145.2" cy="98.8" r="0.57" fill="#eef4f6" opacity="0.62"/>
<circle cx="154.9" cy="107.4" r="0.32" fill="#eef4f6" opacity="0.86"/>
<circle cx="143.6" cy="89.1" r="0.31" fill="#eef4f6" opacity="0.73"/>
<circle cx="147.3" cy="94.9" r="0.79" fill="#eef4f6" opacity="0.61"/>
<circle cx="146.0" cy="93.4" r="0.37" fill="#eef4f6" opacity="0.64"/>
<circle cx="141.0" cy="101.7" r="0.56" fill="#eef4f6" opacity="0.56"/>
<circle cx="136.7" cy="83.7" r="0.67" fill="#eef4f6" opacity="0.52"/>
<circle cx="147.7" cy="99.9" r="0.69" fill="#eef4f6" opacity="0.60"/>
<circle cx="136.8" cy="83.3" r="0.95" fill="#eef4f6" opacity="0.90"/>
<circle cx="146.5" cy="93.8" r="0.36" fill="#eef4f6" opacity="0.90"/>
<circle cx="136.0" cy="85.1" r="0.43" fill="#eef4f6" opacity="0.53"/>
<circle cx="139.0" cy="86.8" r="0.73" fill="#eef4f6" opacity="0.71"/>
<circle cx="140.1" cy="89.5" r="0.49" fill="#eef4f6" opacity="0.66"/>
<circle cx="147.6" cy="103.6" r="0.92" fill="#eef4f6" opacity="0.53"/>
<circle cx="147.5" cy="96.2" r="0.77" fill="#eef4f6" opacity="0.59"/>
<circle cx="144.3" cy="97.1" r="0.33" fill="#eef4f6" opacity="0.72"/>
<circle cx="136.2" cy="88.2" r="0.41" fill="#eef4f6" opacity="0.55"/>
<circle cx="143.3" cy="90.2" r="0.59" fill="#eef4f6" opacity="0.81"/>
<circle cx="137.6" cy="88.1" r="0.35" fill="#eef4f6" opacity="0.87"/>
<circle cx="144.3" cy="96.6" r="0.55" fill="#eef4f6" opacity="0.74"/>
<circle cx="140.2" cy="93.0" r="0.80" fill="#eef4f6" opacity="0.72"/>
<circle cx="152.1" cy="103.2" r="0.86" fill="#eef4f6" opacity="0.91"/>
<circle cx="139.7" cy="91.7" r="0.84" fill="#eef4f6" opacity="0.91"/>
<circle cx="136.4" cy="95.6" r="0.98" fill="#eef4f6" opacity="0.68"/>
<circle cx="144.4" cy="86.6" r="0.86" fill="#eef4f6" opacity="0.51"/>
<circle cx="145.7" cy="102.8" r="0.73" fill="#eef4f6" opacity="0.84"/>
<circle cx="140.3" cy="92.8" r="0.95" fill="#eef4f6" opacity="0.74"/>
<circle cx="142.2" cy="91.5" r="1.00" fill="#eef4f6" opacity="0.75"/>
<circle cx="136.9" cy="85.0" r="0.92" fill="#eef4f6" opacity="0.66"/>
<circle cx="147.1" cy="96.6" r="0.42" fill="#eef4f6" opacity="0.74"/>
<circle cx="140.2" cy="89.3" r="0.39" fill="#eef4f6" opacity="0.51"/>
<circle cx="143.0" cy="100.4" r="0.32" fill="#eef4f6" opacity="0.80"/>
<circle cx="145.2" cy="97.5" r="0.95" fill="#eef4f6" opacity="0.74"/>
<circle cx="142.1" cy="89.2" r="0.39" fill="#eef4f6" opacity="0.61"/>
<circle cx="142.9" cy="100.8" r="0.84" fill="#eef4f6" opacity="0.84"/>
<circle cx="150.8" cy="119.0" r="0.60" fill="#eef4f6" opacity="0.67"/>
<circle cx="151.0" cy="126.9" r="0.68" fill="#eef4f6" opacity="0.71"/>
<circle cx="158.5" cy="130.1" r="0.71" fill="#eef4f6" opacity="0.86"/>
<circle cx="150.0" cy="107.3" r="1.00" fill="#eef4f6" opacity="0.67"/>
<circle cx="152.9" cy="126.6" r="0.77" fill="#eef4f6" opacity="0.76"/>
<circle cx="142.1" cy="108.5" r="0.44" fill="#eef4f6" opacity="0.60"/>
<circle cx="149.5" cy="105.0" r="0.64" fill="#eef4f6" opacity="0.52"/>
<circle cx="151.8" cy="142.2" r="0.65" fill="#eef4f6" opacity="0.71"/>
<circle cx="151.6" cy="136.8" r="0.72" fill="#eef4f6" opacity="0.81"/>
<circle cx="153.9" cy="111.1" r="0.56" fill="#eef4f6" opacity="0.61"/>
<circle cx="151.1" cy="105.7" r="0.95" fill="#eef4f6" opacity="0.59"/>
<circle cx="153.4" cy="105.6" r="0.35" fill="#eef4f6" opacity="0.64"/>
<circle cx="151.3" cy="121.3" r="0.88" fill="#eef4f6" opacity="0.62"/>
<circle cx="150.8" cy="117.3" r="0.45" fill="#eef4f6" opacity="0.59"/>
<circle cx="148.8" cy="126.9" r="0.45" fill="#eef4f6" opacity="0.81"/>
<circle cx="153.1" cy="140.7" r="0.56" fill="#eef4f6" opacity="0.59"/>
<circle cx="154.0" cy="129.0" r="0.79" fill="#eef4f6" opacity="0.69"/>
<circle cx="159.3" cy="142.1" r="0.76" fill="#eef4f6" opacity="0.51"/>
<circle cx="150.3" cy="110.7" r="0.61" fill="#eef4f6" opacity="0.73"/>
<circle cx="155.1" cy="123.0" r="0.75" fill="#eef4f6" opacity="0.79"/>
<circle cx="152.5" cy="134.2" r="0.83" fill="#eef4f6" opacity="0.79"/>
<circle cx="150.4" cy="130.2" r="0.46" fill="#eef4f6" opacity="0.86"/>
<circle cx="157.1" cy="127.5" r="0.62" fill="#eef4f6" opacity="0.60"/>
<circle cx="148.9" cy="118.5" r="0.36" fill="#eef4f6" opacity="0.72"/>
<circle cx="157.9" cy="143.5" r="0.53" fill="#eef4f6" opacity="0.65"/>
<circle cx="153.7" cy="129.5" r="0.43" fill="#eef4f6" opacity="0.57"/>
<circle cx="147.1" cy="110.7" r="0.45" fill="#eef4f6" opacity="0.55"/>
<circle cx="151.5" cy="124.9" r="0.58" fill="#eef4f6" opacity="0.84"/>
<circle cx="156.6" cy="143.0" r="0.68" fill="#eef4f6" opacity="0.54"/>
<circle cx="155.4" cy="141.6" r="0.37" fill="#eef4f6" opacity="0.59"/>
<circle cx="147.2" cy="116.7" r="0.66" fill="#eef4f6" opacity="0.80"/>
<circle cx="155.3" cy="126.2" r="0.52" fill="#eef4f6" opacity="0.91"/>
<circle cx="152.3" cy="142.3" r="0.32" fill="#eef4f6" opacity="0.72"/>
<circle cx="154.8" cy="113.0" r="0.71" fill="#eef4f6" opacity="0.58"/>
<circle cx="153.7" cy="123.8" r="0.98" fill="#eef4f6" opacity="0.85"/>
<circle cx="150.4" cy="112.1" r="0.41" fill="#eef4f6" opacity="0.65"/>
<circle cx="149.0" cy="111.8" r="0.57" fill="#eef4f6" opacity="0.86"/>
<circle cx="155.5" cy="128.8" r="0.36" fill="#eef4f6" opacity="0.65"/>
<circle cx="151.6" cy="107.1" r="0.40" fill="#eef4f6" opacity="0.64"/>
<circle cx="157.6" cy="136.6" r="0.61" fill="#eef4f6" opacity="0.60"/>
<circle cx="151.6" cy="143.0" r="0.60" fill="#eef4f6" opacity="0.81"/>
<circle cx="149.6" cy="116.9" r="0.69" fill="#eef4f6" opacity="0.66"/>
<circle cx="155.8" cy="138.7" r="0.51" fill="#eef4f6" opacity="0.65"/>
<circle cx="158.6" cy="149.3" r="0.60" fill="#eef4f6" opacity="0.59"/>
<circle cx="155.0" cy="127.3" r="0.91" fill="#eef4f6" opacity="0.65"/>
<circle cx="151.0" cy="118.9" r="0.76" fill="#eef4f6" opacity="0.70"/>
<circle cx="150.7" cy="111.9" r="0.56" fill="#eef4f6" opacity="0.63"/>
<circle cx="147.1" cy="114.4" r="0.78" fill="#eef4f6" opacity="0.72"/>
<circle cx="153.4" cy="147.9" r="0.89" fill="#eef4f6" opacity="0.57"/>
<circle cx="148.5" cy="108.3" r="0.77" fill="#eef4f6" opacity="0.93"/>
<circle cx="153.6" cy="119.8" r="1.00" fill="#eef4f6" opacity="0.65"/>
<circle cx="150.7" cy="148.5" r="0.42" fill="#eef4f6" opacity="0.68"/>
<circle cx="150.6" cy="119.6" r="0.49" fill="#eef4f6" opacity="0.86"/>
<circle cx="147.9" cy="114.1" r="0.85" fill="#eef4f6" opacity="0.89"/>
<circle cx="155.0" cy="112.1" r="0.98" fill="#eef4f6" opacity="0.72"/>
<circle cx="150.2" cy="112.9" r="0.98" fill="#eef4f6" opacity="0.79"/>
<circle cx="150.4" cy="133.7" r="0.51" fill="#eef4f6" opacity="0.56"/>
<circle cx="152.5" cy="130.3" r="0.30" fill="#eef4f6" opacity="0.54"/>
<circle cx="149.4" cy="132.2" r="0.33" fill="#eef4f6" opacity="0.79"/>
<circle cx="156.7" cy="134.6" r="0.51" fill="#eef4f6" opacity="0.70"/>
<circle cx="150.7" cy="114.5" r="0.57" fill="#eef4f6" opacity="0.83"/>
<circle cx="155.9" cy="132.9" r="0.79" fill="#eef4f6" opacity="0.88"/>
<circle cx="154.9" cy="124.6" r="0.74" fill="#eef4f6" opacity="0.64"/>
<circle cx="148.5" cy="104.8" r="0.39" fill="#eef4f6" opacity="0.66"/>
<circle cx="154.7" cy="121.5" r="0.74" fill="#eef4f6" opacity="0.87"/>
<circle cx="155.0" cy="146.1" r="0.30" fill="#eef4f6" opacity="0.65"/>
<circle cx="155.5" cy="135.1" r="0.45" fill="#eef4f6" opacity="0.51"/>
<circle cx="152.6" cy="119.2" r="0.70" fill="#eef4f6" opacity="0.75"/>
<circle cx="153.5" cy="107.4" r="0.74" fill="#eef4f6" opacity="0.58"/>
<circle cx="152.3" cy="120.8" r="0.95" fill="#eef4f6" opacity="0.64"/>
<circle cx="154.1" cy="134.1" r="0.58" fill="#eef4f6" opacity="0.86"/>
<circle cx="153.6" cy="110.5" r="0.81" fill="#eef4f6" opacity="0.61"/>
<circle cx="153.3" cy="135.0" r="0.60" fill="#eef4f6" opacity="0.89"/>
<circle cx="154.1" cy="125.7" r="0.98" fill="#eef4f6" opacity="0.91"/>
<circle cx="149.6" cy="130.9" r="0.85" fill="#eef4f6" opacity="0.58"/>
<circle cx="144.3" cy="105.0" r="0.92" fill="#eef4f6" opacity="0.91"/>
<circle cx="158.0" cy="134.8" r="0.64" fill="#eef4f6" opacity="0.91"/>
<circle cx="156.5" cy="138.4" r="0.38" fill="#eef4f6" opacity="0.86"/>
<circle cx="152.5" cy="123.1" r="0.52" fill="#eef4f6" opacity="0.56"/>
<circle cx="148.8" cy="114.1" r="0.34" fill="#eef4f6" opacity="0.93"/>
<circle cx="155.4" cy="122.9" r="0.70" fill="#eef4f6" opacity="0.66"/>
<circle cx="149.9" cy="119.1" r="0.61" fill="#eef4f6" opacity="0.84"/>
<circle cx="155.1" cy="134.9" r="0.83" fill="#eef4f6" opacity="0.60"/>
<circle cx="159.8" cy="135.9" r="0.41" fill="#eef4f6" opacity="0.68"/>
<circle cx="153.4" cy="134.4" r="0.55" fill="#eef4f6" opacity="0.74"/>
<circle cx="151.0" cy="155.9" r="0.33" fill="#eef4f6" opacity="0.54"/>
<circle cx="149.8" cy="155.2" r="0.50" fill="#eef4f6" opacity="0.63"/>
<circle cx="152.3" cy="146.7" r="0.58" fill="#eef4f6" opacity="0.85"/>
<circle cx="150.0" cy="148.3" r="0.67" fill="#eef4f6" opacity="0.84"/>
<circle cx="147.4" cy="149.9" r="0.68" fill="#eef4f6" opacity="0.92"/>
<circle cx="148.6" cy="158.5" r="0.89" fill="#eef4f6" opacity="0.74"/>
<circle cx="150.9" cy="151.0" r="0.73" fill="#eef4f6" opacity="0.62"/>
<circle cx="150.8" cy="147.3" r="0.62" fill="#eef4f6" opacity="0.61"/>
<circle cx="148.3" cy="160.8" r="0.69" fill="#eef4f6" opacity="0.78"/>
<circle cx="150.7" cy="154.6" r="0.88" fill="#eef4f6" opacity="0.59"/>
<circle cx="147.6" cy="149.9" r="0.61" fill="#eef4f6" opacity="0.75"/>
<circle cx="153.3" cy="151.1" r="0.44" fill="#eef4f6" opacity="0.69"/>
<circle cx="147.1" cy="154.8" r="0.70" fill="#eef4f6" opacity="0.62"/>
<circle cx="150.1" cy="147.5" r="0.31" fill="#eef4f6" opacity="0.63"/>
<circle cx="148.8" cy="153.9" r="0.70" fill="#eef4f6" opacity="0.95"/>
<circle cx="152.7" cy="149.8" r="0.81" fill="#eef4f6" opacity="0.72"/>
<circle cx="147.6" cy="146.6" r="0.34" fill="#eef4f6" opacity="0.66"/>
<circle cx="148.4" cy="154.7" r="0.56" fill="#eef4f6" opacity="0.53"/>
<circle cx="149.9" cy="141.6" r="0.44" fill="#eef4f6" opacity="0.58"/>
<circle cx="147.2" cy="158.5" r="0.44" fill="#eef4f6" opacity="0.85"/>
<circle cx="147.5" cy="170.6" r="0.73" fill="#eef4f6" opacity="0.80"/>
<circle cx="150.1" cy="171.6" r="0.81" fill="#eef4f6" opacity="0.72"/>
<circle cx="150.9" cy="156.9" r="0.40" fill="#eef4f6" opacity="0.68"/>
<circle cx="150.2" cy="157.0" r="0.33" fill="#eef4f6" opacity="0.57"/>
<circle cx="147.3" cy="170.7" r="0.69" fill="#eef4f6" opacity="0.70"/>
<circle cx="142.4" cy="171.2" r="0.51" fill="#eef4f6" opacity="0.80"/>
<circle cx="147.1" cy="170.2" r="0.41" fill="#eef4f6" opacity="0.55"/>
<circle cx="147.0" cy="165.5" r="0.53" fill="#eef4f6" opacity="0.79"/>
<circle cx="145.7" cy="159.0" r="0.59" fill="#eef4f6" opacity="0.54"/>
<circle cx="149.1" cy="156.8" r="0.75" fill="#eef4f6" opacity="0.94"/>
<circle cx="146.8" cy="162.0" r="0.51" fill="#eef4f6" opacity="0.72"/>
<circle cx="147.1" cy="165.5" r="0.54" fill="#eef4f6" opacity="0.80"/>
<circle cx="151.2" cy="153.7" r="0.83" fill="#eef4f6" opacity="0.86"/>
<circle cx="144.9" cy="167.2" r="0.33" fill="#eef4f6" opacity="0.86"/>
<circle cx="148.6" cy="158.3" r="0.58" fill="#eef4f6" opacity="0.62"/>
<circle cx="149.8" cy="156.9" r="0.77" fill="#eef4f6" opacity="0.92"/>
<circle cx="149.6" cy="157.1" r="0.51" fill="#eef4f6" opacity="0.93"/>
<circle cx="149.4" cy="160.9" r="0.52" fill="#eef4f6" opacity="0.85"/>
<circle cx="149.1" cy="158.0" r="0.57" fill="#eef4f6" opacity="0.93"/>
<circle cx="148.6" cy="165.9" r="0.70" fill="#eef4f6" opacity="0.91"/>
<circle cx="150.4" cy="161.1" r="0.77" fill="#eef4f6" opacity="0.94"/>
<circle cx="146.6" cy="166.8" r="0.46" fill="#eef4f6" opacity="0.85"/>
<circle cx="139.5" cy="210.1" r="0.86" fill="#eef4f6" opacity="0.59"/>
<circle cx="138.3" cy="196.5" r="0.88" fill="#eef4f6" opacity="0.73"/>
<circle cx="135.5" cy="203.5" r="0.75" fill="#eef4f6" opacity="0.57"/>
<circle cx="140.2" cy="196.2" r="0.88" fill="#eef4f6" opacity="0.93"/>
<circle cx="137.3" cy="203.1" r="0.44" fill="#eef4f6" opacity="0.62"/>
<circle cx="138.8" cy="207.2" r="0.74" fill="#eef4f6" opacity="0.52"/>
<circle cx="137.9" cy="197.2" r="0.74" fill="#eef4f6" opacity="0.76"/>
<circle cx="140.4" cy="200.6" r="0.36" fill="#eef4f6" opacity="0.76"/>
<circle cx="136.2" cy="224.1" r="0.85" fill="#eef4f6" opacity="0.81"/>
<circle cx="140.1" cy="198.4" r="0.59" fill="#eef4f6" opacity="0.67"/>
<circle cx="137.5" cy="208.6" r="0.59" fill="#eef4f6" opacity="0.79"/>
<circle cx="140.8" cy="204.6" r="0.38" fill="#eef4f6" opacity="0.94"/>
<circle cx="137.3" cy="199.7" r="0.49" fill="#eef4f6" opacity="0.82"/>
<circle cx="139.7" cy="187.7" r="0.65" fill="#eef4f6" opacity="0.62"/>
<circle cx="138.8" cy="201.3" r="0.75" fill="#eef4f6" opacity="0.64"/>
<circle cx="139.2" cy="199.2" r="0.66" fill="#eef4f6" opacity="0.58"/>
<circle cx="140.1" cy="204.4" r="0.81" fill="#eef4f6" opacity="0.67"/>
<circle cx="136.4" cy="200.9" r="0.89" fill="#eef4f6" opacity="0.62"/>
<circle cx="139.3" cy="191.2" r="0.78" fill="#eef4f6" opacity="0.66"/>
<circle cx="136.1" cy="204.7" r="0.45" fill="#eef4f6" opacity="0.72"/>
<circle cx="138.0" cy="192.4" r="0.45" fill="#eef4f6" opacity="0.80"/>
<circle cx="138.8" cy="207.1" r="0.59" fill="#eef4f6" opacity="0.79"/>
<circle cx="138.0" cy="189.3" r="0.40" fill="#eef4f6" opacity="0.74"/>
<circle cx="137.7" cy="203.6" r="0.85" fill="#eef4f6" opacity="0.56"/>
<circle cx="138.8" cy="205.0" r="0.69" fill="#eef4f6" opacity="0.80"/>
<circle cx="137.9" cy="219.0" r="0.68" fill="#eef4f6" opacity="0.59"/>
<circle cx="142.4" cy="198.3" r="0.49" fill="#eef4f6" opacity="0.89"/>
<circle cx="139.5" cy="207.9" r="0.55" fill="#eef4f6" opacity="0.93"/>
<circle cx="137.8" cy="209.7" r="0.42" fill="#eef4f6" opacity="0.87"/>
<circle cx="138.9" cy="215.8" r="0.50" fill="#eef4f6" opacity="0.75"/>
<circle cx="140.3" cy="199.1" r="0.62" fill="#eef4f6" opacity="0.79"/>
<circle cx="137.9" cy="199.4" r="0.69" fill="#eef4f6" opacity="0.64"/>
<circle cx="139.0" cy="203.8" r="0.66" fill="#eef4f6" opacity="0.76"/>
<circle cx="139.7" cy="199.0" r="0.70" fill="#eef4f6" opacity="0.70"/>
<circle cx="136.3" cy="200.6" r="0.61" fill="#eef4f6" opacity="0.70"/>
<circle cx="138.8" cy="199.7" r="0.82" fill="#eef4f6" opacity="0.73"/>
<circle cx="140.5" cy="205.3" r="0.87" fill="#eef4f6" opacity="0.94"/>
<circle cx="137.6" cy="205.4" r="0.86" fill="#eef4f6" opacity="0.63"/>
<circle cx="140.1" cy="203.7" r="0.58" fill="#eef4f6" opacity="0.80"/>
<circle cx="140.0" cy="205.8" r="0.74" fill="#eef4f6" opacity="0.65"/>
<circle cx="129.5" cy="63.9" r="0.43" fill="#eef4f6" opacity="0.81"/>
<circle cx="113.5" cy="56.1" r="0.45" fill="#eef4f6" opacity="0.94"/>
<circle cx="128.9" cy="45.7" r="0.45" fill="#eef4f6" opacity="0.77"/>
<circle cx="123.2" cy="56.8" r="0.57" fill="#eef4f6" opacity="0.86"/>
<circle cx="126.3" cy="42.6" r="0.47" fill="#eef4f6" opacity="0.95"/>
<circle cx="107.6" cy="58.0" r="0.32" fill="#eef4f6" opacity="0.67"/>
<circle cx="114.5" cy="50.0" r="0.46" fill="#eef4f6" opacity="0.86"/>
<circle cx="118.4" cy="61.7" r="0.54" fill="#eef4f6" opacity="0.77"/>
<circle cx="134.1" cy="56.2" r="0.30" fill="#eef4f6" opacity="0.64"/>
<circle cx="133.0" cy="62.1" r="0.35" fill="#eef4f6" opacity="0.82"/>
<circle cx="128.9" cy="56.9" r="0.51" fill="#eef4f6" opacity="0.92"/>
<circle cx="132.8" cy="58.8" r="0.42" fill="#eef4f6" opacity="0.78"/>
<circle cx="126.0" cy="55.5" r="0.32" fill="#eef4f6" opacity="0.90"/>
<circle cx="116.3" cy="55.5" r="0.34" fill="#eef4f6" opacity="0.81"/>
<circle cx="128.4" cy="52.6" r="0.53" fill="#eef4f6" opacity="0.88"/>
<circle cx="133.1" cy="54.6" r="0.49" fill="#eef4f6" opacity="0.66"/>
<circle cx="126.0" cy="49.7" r="0.49" fill="#eef4f6" opacity="0.78"/>
<circle cx="136.1" cy="54.3" r="0.33" fill="#eef4f6" opacity="0.58"/>
<circle cx="135.5" cy="36.4" r="0.44" fill="#eef4f6" opacity="0.62"/>
<circle cx="132.6" cy="26.8" r="0.36" fill="#eef4f6" opacity="0.79"/>
<circle cx="121.6" cy="39.1" r="0.33" fill="#eef4f6" opacity="0.90"/>
<circle cx="134.8" cy="23.2" r="0.32" fill="#eef4f6" opacity="0.79"/>
<circle cx="142.2" cy="22.9" r="0.44" fill="#eef4f6" opacity="0.74"/>
<circle cx="152.0" cy="38.6" r="0.36" fill="#eef4f6" opacity="0.72"/>
<circle cx="141.1" cy="13.5" r="0.47" fill="#eef4f6" opacity="0.67"/>
<circle cx="142.4" cy="26.2" r="0.41" fill="#eef4f6" opacity="0.69"/>
<circle cx="147.7" cy="20.3" r="0.43" fill="#eef4f6" opacity="0.86"/>
<circle cx="135.5" cy="37.2" r="0.32" fill="#eef4f6" opacity="0.66"/>
<circle cx="143.6" cy="42.5" r="0.33" fill="#eef4f6" opacity="0.91"/>
<circle cx="133.7" cy="24.8" r="0.32" fill="#eef4f6" opacity="0.70"/>
<circle cx="136.3" cy="28.2" r="0.50" fill="#eef4f6" opacity="0.66"/>
<circle cx="134.6" cy="32.7" r="0.37" fill="#eef4f6" opacity="0.62"/>
<polygon points="70.2,15.6 73.9,15.0 74.7,19.6 77.9,24.1 77.3,30.5 75.3,35.1 71.2,40.1 67.2,43.7 62.6,45.1 59.2,49.2 60.6,51.6 65.2,50.6 70.2,48.8 74.7,49.2 73.9,53.2 68.2,52.6 67.2,55.8 74.3,57.6 78.3,56.6 82.3,58.0 87.3,57.0 88.3,62.6 90.7,66.0 87.3,67.0 87.3,70.7 79.3,75.1 70.2,80.1 67.2,77.7 67.8,83.1 68.2,92.1 70.2,96.2 74.7,97.6 76.7,92.1 72.2,89.5 74.7,86.1 79.3,88.7 83.3,87.1 84.7,92.1 83.9,100.2 86.3,101.6 89.9,99.6 91.3,94.2 94.3,90.1 98.4,91.5 101.4,96.2 104.0,99.2 100.4,102.2 100.1,106.0 102.1,113.1 105.1,117.1 111.2,118.1 113.2,111.0 119.2,110.4 123.8,113.1 125.2,120.1 127.2,124.1 134.3,127.1 136.3,130.1 141.3,133.1 144.3,137.1 146.3,141.2 144.7,145.2 147.3,150.0 146.3,154.0 150.3,159.1 146.3,161.1 141.3,163.1 135.3,167.1 135.3,173.1 128.2,174.7 123.2,175.1 119.2,177.1 116.3,177.4 95.6,171.6 96.1,179.7 113.5,183.2 117.4,184.4 118.2,186.2 113.2,188.2 107.1,190.0 103.1,192.0 100.1,196.0 98.4,201.0 104.4,202.0 107.0,205.1 107.4,210.1 102.4,210.1 96.3,207.7 90.3,205.1 81.3,207.7 75.3,207.1 74.3,210.1 79.3,212.5 85.3,215.1 89.9,217.1 89.3,221.7 83.3,222.1 81.3,218.1 77.3,216.1 72.2,214.1 69.8,215.1 68.6,220.1 69.8,226.1 70.2,231.2 67.2,232.6 63.2,231.2 61.2,227.1 59.2,220.1 57.2,211.1 54.6,205.1 52.2,200.0 49.2,197.6 43.1,198.0 38.1,196.0 32.1,193.0 29.1,188.2 31.1,184.2 35.1,178.1 38.1,174.1 37.1,169.1 38.1,165.1 47.1,164.7 51.2,163.1 49.8,160.1 50.2,153.0 55.2,149.0 59.2,147.2 59.8,141.2 56.6,135.7 54.2,130.1 54.6,123.7 50.2,120.1 47.1,117.1 40.1,113.1 36.1,114.1 35.1,108.0 41.1,107.6 45.1,112.0 49.2,114.1 53.2,109.0 56.6,106.0 58.2,105.2 60.2,101.6 63.8,102.2 64.2,98.2 63.8,88.1 62.6,82.7 58.2,80.7 55.2,75.1 54.2,70.1 51.2,64.0 50.2,62.0 47.1,57.4 42.1,55.0 41.5,54.2 43.1,50.2 42.7,45.1 46.1,43.7 51.2,44.1 52.6,40.5 57.2,38.1 60.6,33.1 61.8,27.1 64.6,22.5 69.2,19.0" fill="none" stroke="#fb1ced" stroke-width="1.45" stroke-linejoin="round"/>
<polyline points="60.2,101.6 62,104 61,108 64,109 65.2,112 67.2,113.1" fill="none" stroke="#fb1ced" stroke-width="1.3"/>
<circle cx="72.2" cy="15.3" r="1.1" fill="#0a0a0a"/>
<circle cx="74.4" cy="17.8" r="1.1" fill="#0a0a0a"/>
<circle cx="77.9" cy="24.2" r="1.1" fill="#0a0a0a"/>
<circle cx="74.3" cy="36.3" r="1.1" fill="#0a0a0a"/>
<circle cx="63.4" cy="44.9" r="0.95" fill="#e8102a"/>
<circle cx="60.4" cy="47.7" r="1.1" fill="#0a0a0a"/>
<circle cx="60.1" cy="50.7" r="1.1" fill="#0a0a0a"/>
<circle cx="68.9" cy="49.3" r="1.1" fill="#0a0a0a"/>
<circle cx="74.1" cy="52.2" r="1.1" fill="#0a0a0a"/>
<circle cx="72.2" cy="53.0" r="1.1" fill="#0a0a0a"/>
<circle cx="67.3" cy="55.4" r="1.1" fill="#0a0a0a"/>
<circle cx="72.3" cy="57.1" r="1.1" fill="#0a0a0a"/>
<circle cx="88.1" cy="61.5" r="1.1" fill="#0a0a0a"/>
<circle cx="90.5" cy="65.8" r="0.95" fill="#e8102a"/>
<circle cx="87.3" cy="67.5" r="1.1" fill="#0a0a0a"/>
<circle cx="79.6" cy="74.9" r="1.1" fill="#0a0a0a"/>
<circle cx="73.6" cy="78.2" r="1.1" fill="#0a0a0a"/>
<circle cx="68.7" cy="78.9" r="1.1" fill="#0a0a0a"/>
<circle cx="67.4" cy="79.6" r="1.1" fill="#0a0a0a"/>
<circle cx="68.0" cy="88.4" r="1.1" fill="#0a0a0a"/>
<circle cx="82.7" cy="87.3" r="1.1" fill="#0a0a0a"/>
<circle cx="85.6" cy="101.2" r="1.1" fill="#0a0a0a"/>
<circle cx="89.3" cy="99.9" r="0.95" fill="#e8102a"/>
<circle cx="90.3" cy="98.1" r="1.1" fill="#0a0a0a"/>
<circle cx="93.9" cy="90.7" r="1.1" fill="#0a0a0a"/>
<circle cx="100.8" cy="95.3" r="1.1" fill="#0a0a0a"/>
<circle cx="101.8" cy="96.7" r="1.1" fill="#0a0a0a"/>
<circle cx="101.2" cy="101.5" r="1.1" fill="#0a0a0a"/>
<circle cx="101.3" cy="110.4" r="1.1" fill="#0a0a0a"/>
<circle cx="104.3" cy="116.0" r="1.1" fill="#0a0a0a"/>
<circle cx="110.5" cy="118.0" r="1.1" fill="#0a0a0a"/>
<circle cx="119.2" cy="110.4" r="0.95" fill="#e8102a"/>
<circle cx="119.6" cy="110.6" r="1.1" fill="#0a0a0a"/>
<circle cx="123.8" cy="113.3" r="1.1" fill="#0a0a0a"/>
<circle cx="126.0" cy="121.7" r="1.1" fill="#0a0a0a"/>
<circle cx="128.3" cy="124.6" r="1.1" fill="#0a0a0a"/>
<circle cx="136.0" cy="129.7" r="1.1" fill="#0a0a0a"/>
<circle cx="141.1" cy="133.0" r="1.1" fill="#0a0a0a"/>
<circle cx="145.2" cy="139.0" r="1.1" fill="#0a0a0a"/>
<circle cx="145.3" cy="143.8" r="1.1" fill="#0a0a0a"/>
<circle cx="146.2" cy="147.9" r="0.95" fill="#e8102a"/>
<circle cx="148.6" cy="160.0" r="1.1" fill="#0a0a0a"/>
<circle cx="139.5" cy="164.3" r="1.1" fill="#0a0a0a"/>
<circle cx="131.4" cy="174.0" r="1.1" fill="#0a0a0a"/>
<circle cx="126.1" cy="174.9" r="1.1" fill="#0a0a0a"/>
<circle cx="123.1" cy="175.1" r="1.1" fill="#0a0a0a"/>
<circle cx="117.4" cy="177.3" r="1.1" fill="#0a0a0a"/>
<circle cx="103.3" cy="173.8" r="1.1" fill="#0a0a0a"/>
<circle cx="95.9" cy="177.1" r="1.1" fill="#0a0a0a"/>
<circle cx="108.4" cy="182.2" r="0.95" fill="#e8102a"/>
<circle cx="117.4" cy="184.5" r="1.1" fill="#0a0a0a"/>
<circle cx="105.3" cy="190.9" r="1.1" fill="#0a0a0a"/>
<circle cx="102.1" cy="193.3" r="1.1" fill="#0a0a0a"/>
<circle cx="99.6" cy="197.6" r="1.1" fill="#0a0a0a"/>
<circle cx="102.0" cy="201.6" r="1.1" fill="#0a0a0a"/>
<circle cx="105.4" cy="203.2" r="1.1" fill="#0a0a0a"/>
<circle cx="104.6" cy="210.1" r="1.1" fill="#0a0a0a"/>
<circle cx="95.0" cy="207.1" r="1.1" fill="#0a0a0a"/>
<circle cx="80.2" cy="207.6" r="0.95" fill="#e8102a"/>
<circle cx="74.6" cy="209.2" r="1.1" fill="#0a0a0a"/>
<circle cx="75.9" cy="210.9" r="1.1" fill="#0a0a0a"/>
<circle cx="84.3" cy="214.7" r="1.1" fill="#0a0a0a"/>
<circle cx="89.2" cy="216.8" r="1.1" fill="#0a0a0a"/>
<circle cx="89.7" cy="218.6" r="1.1" fill="#0a0a0a"/>
<circle cx="80.4" cy="217.6" r="1.1" fill="#0a0a0a"/>
<circle cx="74.6" cy="215.0" r="1.1" fill="#0a0a0a"/>
<circle cx="70.3" cy="214.9" r="1.1" fill="#0a0a0a"/>
<circle cx="68.9" cy="221.8" r="0.95" fill="#e8102a"/>
<circle cx="62.9" cy="230.7" r="1.1" fill="#0a0a0a"/>
<circle cx="59.6" cy="221.5" r="1.1" fill="#0a0a0a"/>
<circle cx="58.5" cy="217.0" r="1.1" fill="#0a0a0a"/>
<circle cx="56.1" cy="208.6" r="1.1" fill="#0a0a0a"/>
<circle cx="52.4" cy="200.4" r="1.1" fill="#0a0a0a"/>
<circle cx="52.2" cy="200.0" r="1.1" fill="#0a0a0a"/>
<circle cx="29.2" cy="188.4" r="1.1" fill="#0a0a0a"/>
<circle cx="34.1" cy="179.7" r="1.1" fill="#0a0a0a"/>
<circle cx="37.4" cy="167.9" r="0.95" fill="#e8102a"/>
<circle cx="40.1" cy="165.0" r="1.1" fill="#0a0a0a"/>
<circle cx="49.5" cy="163.8" r="1.1" fill="#0a0a0a"/>
<circle cx="50.1" cy="160.7" r="1.1" fill="#0a0a0a"/>
<circle cx="50.2" cy="153.7" r="1.1" fill="#0a0a0a"/>
<circle cx="56.6" cy="135.6" r="1.1" fill="#0a0a0a"/>
<circle cx="53.3" cy="122.6" r="1.1" fill="#0a0a0a"/>
<circle cx="44.2" cy="115.4" r="1.1" fill="#0a0a0a"/>
<circle cx="35.8" cy="112.0" r="1.1" fill="#0a0a0a"/>
<circle cx="40.3" cy="107.7" r="0.95" fill="#e8102a"/>
<circle cx="44.2" cy="111.0" r="1.1" fill="#0a0a0a"/>
<circle cx="45.9" cy="112.4" r="1.1" fill="#0a0a0a"/>
<circle cx="52.5" cy="109.9" r="1.1" fill="#0a0a0a"/>
<circle cx="55.9" cy="106.6" r="1.1" fill="#0a0a0a"/>
<circle cx="64.1" cy="99.7" r="1.1" fill="#0a0a0a"/>
<circle cx="63.5" cy="86.6" r="1.1" fill="#0a0a0a"/>
<circle cx="60.3" cy="81.6" r="1.1" fill="#0a0a0a"/>
<circle cx="56.8" cy="78.1" r="1.1" fill="#0a0a0a"/>
<circle cx="54.0" cy="69.8" r="0.95" fill="#e8102a"/>
<circle cx="51.1" cy="63.8" r="1.1" fill="#0a0a0a"/>
<circle cx="47.2" cy="57.5" r="1.1" fill="#0a0a0a"/>
<circle cx="41.8" cy="54.6" r="1.1" fill="#0a0a0a"/>
<circle cx="42.0" cy="52.9" r="1.1" fill="#0a0a0a"/>
<circle cx="42.8" cy="46.9" r="1.1" fill="#0a0a0a"/>
<circle cx="43.9" cy="44.6" r="1.1" fill="#0a0a0a"/>
<circle cx="47.8" cy="43.8" r="1.1" fill="#0a0a0a"/>
<circle cx="52.0" cy="42.1" r="1.1" fill="#0a0a0a"/>
<circle cx="57.5" cy="37.7" r="0.95" fill="#e8102a"/>
<circle cx="61.0" cy="30.9" r="1.1" fill="#0a0a0a"/>
<circle cx="64.0" cy="23.5" r="1.1" fill="#0a0a0a"/>
<circle cx="68.3" cy="19.7" r="1.1" fill="#0a0a0a"/>
<circle cx="70.5" cy="88.5" r="1.05" fill="#0a0a0a"/>
<circle cx="72.5" cy="90.5" r="1.05" fill="#0a0a0a"/>
<circle cx="74" cy="88" r="1.05" fill="#0a0a0a"/>
<circle cx="75.5" cy="91.5" r="1.05" fill="#0a0a0a"/>
<circle cx="73" cy="93.5" r="1.05" fill="#0a0a0a"/>
<circle cx="71" cy="95" r="1.05" fill="#0a0a0a"/>
<circle cx="74.5" cy="95.5" r="1.05" fill="#0a0a0a"/>
<circle cx="77" cy="93" r="1.05" fill="#0a0a0a"/>
<circle cx="76" cy="89" r="1.05" fill="#0a0a0a"/>
<circle cx="72" cy="97" r="1.05" fill="#0a0a0a"/>
<circle cx="61" cy="103" r="0.9" fill="#e8102a"/>
<circle cx="63" cy="106" r="0.9" fill="#e8102a"/>
<circle cx="62" cy="109.5" r="0.9" fill="#e8102a"/>
<circle cx="65" cy="111" r="0.9" fill="#e8102a"/>
<circle cx="66.5" cy="113" r="0.9" fill="#e8102a"/>
<circle cx="64" cy="101.5" r="0.9" fill="#e8102a"/>
<line x1="85" y1="22.1" x2="101" y2="22.1" stroke="#fb1ced" stroke-width="1.6"/>
<circle cx="88.3" cy="30" r="1.1" fill="#0a0a0a"/>
<path d="M94.4 28.4 L97.6 31.6 M97.6 28.4 L94.4 31.6" stroke="#ee1020" stroke-width="1.1"/>
<text x="104" y="24.6" font-size="6.6" font-weight="bold" fill="#f4f4f4">NDWI</text>
<text x="104" y="32.4" font-size="6.6" font-weight="bold" fill="#f4f4f4">NDWI <tspan class="ser" font-size="6.7">sample points</tspan></text>
<line x1="186" y1="102" x2="186" y2="234" stroke="#707070" stroke-width="0.8"/>
<line x1="186" y1="233.9" x2="377" y2="233.9" stroke="#707070" stroke-width="0.8"/>
<path d="M184.6 104.5 L186 101 L187.4 104.5" fill="none" stroke="#6e6e6e" stroke-width="0.7"/>
<path d="M375.5 232.5 L378.6 233.9 L375.5 235.3" fill="none" stroke="#6e6e6e" stroke-width="0.7"/>
<line x1="184.6" y1="123.1" x2="186" y2="123.1" stroke="#6e6e6e" stroke-width="0.6"/>
<line x1="184.6" y1="147.4" x2="186" y2="147.4" stroke="#6e6e6e" stroke-width="0.6"/>
<line x1="184.6" y1="172.7" x2="186" y2="172.7" stroke="#6e6e6e" stroke-width="0.6"/>
<line x1="184.6" y1="198" x2="186" y2="198" stroke="#6e6e6e" stroke-width="0.6"/>
<line x1="184.6" y1="222.3" x2="186" y2="222.3" stroke="#6e6e6e" stroke-width="0.6"/>
<line x1="191.5" y1="233.9" x2="191.5" y2="235.2" stroke="#6e6e6e" stroke-width="0.6"/>
<line x1="198" y1="233.9" x2="198" y2="235.2" stroke="#6e6e6e" stroke-width="0.6"/>
<line x1="224.9" y1="233.9" x2="224.9" y2="235.2" stroke="#6e6e6e" stroke-width="0.6"/>
<line x1="252" y1="233.9" x2="252" y2="235.2" stroke="#6e6e6e" stroke-width="0.6"/>
<line x1="280" y1="233.9" x2="280" y2="235.2" stroke="#6e6e6e" stroke-width="0.6"/>
<line x1="308" y1="233.9" x2="308" y2="235.2" stroke="#6e6e6e" stroke-width="0.6"/>
<line x1="335.6" y1="233.9" x2="335.6" y2="235.2" stroke="#6e6e6e" stroke-width="0.6"/>
<line x1="364" y1="233.9" x2="364" y2="235.2" stroke="#6e6e6e" stroke-width="0.6"/>
<line x1="192.5" y1="139.7" x2="371" y2="139.7" stroke="#222" stroke-width="0.85"/>
<circle cx="194.3" cy="138.8" r="0.85" fill="#111"/>
<circle cx="200.2" cy="135.3" r="0.85" fill="#111"/>
<circle cx="202.9" cy="137.5" r="0.85" fill="#111"/>
<circle cx="200.7" cy="142.5" r="0.85" fill="#111"/>
<circle cx="204.6" cy="133.7" r="0.85" fill="#111"/>
<circle cx="205.7" cy="141.0" r="0.85" fill="#111"/>
<circle cx="206.8" cy="143.6" r="0.85" fill="#111"/>
<circle cx="205.7" cy="152.0" r="0.85" fill="#111"/>
<circle cx="212.3" cy="143.2" r="0.85" fill="#111"/>
<circle cx="213.4" cy="130.9" r="0.85" fill="#111"/>
<circle cx="213.9" cy="137.0" r="0.85" fill="#111"/>
<circle cx="216.1" cy="132.6" r="0.85" fill="#111"/>
<circle cx="217.8" cy="134.8" r="0.85" fill="#111"/>
<circle cx="218.9" cy="134.4" r="0.85" fill="#111"/>
<circle cx="217.8" cy="139.7" r="0.85" fill="#111"/>
<circle cx="218.9" cy="141.0" r="0.85" fill="#111"/>
<circle cx="221.8" cy="132.6" r="0.85" fill="#111"/>
<circle cx="222.7" cy="134.8" r="0.85" fill="#111"/>
<circle cx="223.3" cy="133.7" r="0.85" fill="#111"/>
<circle cx="222.2" cy="138.1" r="0.85" fill="#111"/>
<circle cx="221.8" cy="142.5" r="0.85" fill="#111"/>
<circle cx="224.4" cy="142.5" r="0.85" fill="#111"/>
<circle cx="221.1" cy="146.9" r="0.85" fill="#111"/>
<circle cx="225.6" cy="145.8" r="0.85" fill="#111"/>
<circle cx="220.0" cy="151.3" r="0.85" fill="#111"/>
<circle cx="224.4" cy="150.2" r="0.85" fill="#111"/>
<circle cx="228.9" cy="135.9" r="0.85" fill="#111"/>
<circle cx="230.0" cy="135.3" r="0.85" fill="#111"/>
<circle cx="227.8" cy="138.1" r="0.85" fill="#111"/>
<circle cx="228.9" cy="139.2" r="0.85" fill="#111"/>
<circle cx="228.9" cy="142.5" r="0.85" fill="#111"/>
<circle cx="226.7" cy="141.4" r="0.85" fill="#111"/>
<circle cx="228.9" cy="147.6" r="0.85" fill="#111"/>
<circle cx="231.1" cy="149.1" r="0.85" fill="#111"/>
<circle cx="232.2" cy="150.2" r="0.85" fill="#111"/>
<circle cx="231.1" cy="131.5" r="0.85" fill="#111"/>
<circle cx="234.4" cy="137.0" r="0.85" fill="#111"/>
<circle cx="236.6" cy="136.4" r="0.85" fill="#111"/>
<circle cx="237.7" cy="135.9" r="0.85" fill="#111"/>
<circle cx="235.5" cy="142.5" r="0.85" fill="#111"/>
<circle cx="238.1" cy="141.4" r="0.85" fill="#111"/>
<circle cx="236.6" cy="145.8" r="0.85" fill="#111"/>
<circle cx="239.9" cy="144.7" r="0.85" fill="#111"/>
<circle cx="237.7" cy="150.2" r="0.85" fill="#111"/>
<circle cx="241.0" cy="148.0" r="0.85" fill="#111"/>
<circle cx="243.2" cy="146.9" r="0.85" fill="#111"/>
<circle cx="243.2" cy="150.7" r="0.85" fill="#111"/>
<circle cx="239.9" cy="138.8" r="0.85" fill="#111"/>
<circle cx="242.1" cy="137.0" r="0.85" fill="#111"/>
<circle cx="243.2" cy="134.4" r="0.85" fill="#111"/>
<circle cx="241.0" cy="142.5" r="0.85" fill="#111"/>
<circle cx="243.8" cy="141.4" r="0.85" fill="#111"/>
<circle cx="242.1" cy="143.2" r="0.85" fill="#111"/>
<circle cx="245.4" cy="133.7" r="0.85" fill="#111"/>
<circle cx="247.6" cy="132.6" r="0.85" fill="#111"/>
<circle cx="246.0" cy="139.2" r="0.85" fill="#111"/>
<circle cx="248.2" cy="138.1" r="0.85" fill="#111"/>
<circle cx="246.9" cy="141.4" r="0.85" fill="#111"/>
<circle cx="245.4" cy="142.5" r="0.85" fill="#111"/>
<circle cx="248.2" cy="143.6" r="0.85" fill="#111"/>
<circle cx="246.5" cy="147.6" r="0.85" fill="#111"/>
<circle cx="249.8" cy="145.8" r="0.85" fill="#111"/>
<circle cx="250.9" cy="150.2" r="0.85" fill="#111"/>
<circle cx="253.5" cy="149.1" r="0.85" fill="#111"/>
<circle cx="255.3" cy="150.2" r="0.85" fill="#111"/>
<circle cx="253.1" cy="137.0" r="0.85" fill="#111"/>
<circle cx="254.2" cy="131.5" r="0.85" fill="#111"/>
<circle cx="255.3" cy="138.1" r="0.85" fill="#111"/>
<circle cx="252.0" cy="139.7" r="0.85" fill="#111"/>
<circle cx="257.5" cy="141.0" r="0.85" fill="#111"/>
<circle cx="258.6" cy="142.5" r="0.85" fill="#111"/>
<circle cx="256.4" cy="143.6" r="0.85" fill="#111"/>
<circle cx="260.1" cy="143.6" r="0.85" fill="#111"/>
<circle cx="261.9" cy="144.7" r="0.85" fill="#111"/>
<circle cx="263.0" cy="141.4" r="0.85" fill="#111"/>
<circle cx="259.2" cy="146.9" r="0.85" fill="#111"/>
<circle cx="259.7" cy="151.3" r="0.85" fill="#111"/>
<circle cx="265.2" cy="132.6" r="0.85" fill="#111"/>
<circle cx="264.1" cy="138.8" r="0.85" fill="#111"/>
<circle cx="266.3" cy="140.3" r="0.85" fill="#111"/>
<circle cx="268.0" cy="138.1" r="0.85" fill="#111"/>
<circle cx="265.8" cy="142.5" r="0.85" fill="#111"/>
<circle cx="268.5" cy="143.6" r="0.85" fill="#111"/>
<circle cx="269.6" cy="144.7" r="0.85" fill="#111"/>
<circle cx="267.4" cy="145.8" r="0.85" fill="#111"/>
<circle cx="265.2" cy="148.0" r="0.85" fill="#111"/>
<circle cx="265.8" cy="150.7" r="0.85" fill="#111"/>
<circle cx="270.7" cy="137.0" r="0.85" fill="#111"/>
<circle cx="271.8" cy="135.9" r="0.85" fill="#111"/>
<circle cx="274.0" cy="133.7" r="0.85" fill="#111"/>
<circle cx="272.9" cy="140.3" r="0.85" fill="#111"/>
<circle cx="274.7" cy="141.4" r="0.85" fill="#111"/>
<circle cx="275.1" cy="142.5" r="0.85" fill="#111"/>
<circle cx="276.2" cy="143.2" r="0.85" fill="#111"/>
<circle cx="277.3" cy="141.4" r="0.85" fill="#111"/>
<circle cx="279.5" cy="141.0" r="0.85" fill="#111"/>
<circle cx="271.8" cy="146.9" r="0.85" fill="#111"/>
<circle cx="273.6" cy="149.1" r="0.85" fill="#111"/>
<circle cx="274.0" cy="150.2" r="0.85" fill="#111"/>
<circle cx="276.9" cy="152.0" r="0.85" fill="#111"/>
<circle cx="270.2" cy="145.8" r="0.85" fill="#111"/>
<circle cx="283.9" cy="135.3" r="0.85" fill="#111"/>
<circle cx="284.6" cy="141.0" r="0.85" fill="#111"/>
<circle cx="276.1" cy="142.5" r="0.85" fill="#111"/>
<circle cx="277.2" cy="141.9" r="0.85" fill="#111"/>
<circle cx="278.3" cy="141.4" r="0.85" fill="#111"/>
<circle cx="279.4" cy="141.0" r="0.85" fill="#111"/>
<circle cx="276.8" cy="144.7" r="0.85" fill="#111"/>
<circle cx="277.2" cy="151.3" r="0.85" fill="#111"/>
<circle cx="282.7" cy="143.6" r="0.85" fill="#111"/>
<circle cx="284.9" cy="135.3" r="0.85" fill="#111"/>
<circle cx="286.0" cy="144.7" r="0.85" fill="#111"/>
<circle cx="288.2" cy="134.4" r="0.85" fill="#111"/>
<circle cx="289.3" cy="134.8" r="0.85" fill="#111"/>
<circle cx="290.9" cy="135.9" r="0.85" fill="#111"/>
<circle cx="288.7" cy="138.8" r="0.85" fill="#111"/>
<circle cx="290.4" cy="139.7" r="0.85" fill="#111"/>
<circle cx="292.6" cy="141.4" r="0.85" fill="#111"/>
<circle cx="294.8" cy="137.5" r="0.85" fill="#111"/>
<circle cx="298.6" cy="137.5" r="0.85" fill="#111"/>
<circle cx="295.9" cy="144.7" r="0.85" fill="#111"/>
<circle cx="292.6" cy="146.9" r="0.85" fill="#111"/>
<circle cx="291.5" cy="148.0" r="0.85" fill="#111"/>
<circle cx="290.0" cy="149.8" r="0.85" fill="#111"/>
<circle cx="306.5" cy="133.7" r="0.85" fill="#111"/>
<circle cx="307.6" cy="141.0" r="0.85" fill="#111"/>
<circle cx="305.8" cy="143.6" r="0.85" fill="#111"/>
<circle cx="308.0" cy="144.7" r="0.85" fill="#111"/>
<circle cx="309.1" cy="145.2" r="0.85" fill="#111"/>
<circle cx="316.8" cy="143.0" r="0.85" fill="#111"/>
<circle cx="317.9" cy="133.1" r="0.85" fill="#111"/>
<circle cx="318.4" cy="134.8" r="0.85" fill="#111"/>
<circle cx="321.2" cy="139.7" r="0.85" fill="#111"/>
<circle cx="323.0" cy="138.1" r="0.85" fill="#111"/>
<circle cx="330.7" cy="144.7" r="0.85" fill="#111"/>
<circle cx="337.1" cy="131.5" r="0.85" fill="#111"/>
<circle cx="337.8" cy="135.9" r="0.85" fill="#111"/>
<circle cx="338.2" cy="138.1" r="0.85" fill="#111"/>
<circle cx="342.6" cy="137.5" r="0.85" fill="#111"/>
<circle cx="340.0" cy="147.4" r="0.85" fill="#111"/>
<circle cx="348.8" cy="148.5" r="0.85" fill="#111"/>
<circle cx="352.5" cy="144.1" r="0.85" fill="#111"/>
<circle cx="352.5" cy="150.2" r="0.85" fill="#111"/>
<circle cx="356.9" cy="141.9" r="0.85" fill="#111"/>
<circle cx="358.7" cy="148.0" r="0.85" fill="#111"/>
<circle cx="199.6" cy="124.9" r="0.9" fill="#f0141e"/>
<circle cx="200.7" cy="126.4" r="0.9" fill="#f0141e"/>
<circle cx="209.5" cy="126.0" r="0.9" fill="#f0141e"/>
<circle cx="222.7" cy="129.8" r="0.9" fill="#f0141e"/>
<circle cx="233.7" cy="128.2" r="0.9" fill="#f0141e"/>
<circle cx="257.9" cy="128.7" r="0.9" fill="#f0141e"/>
<circle cx="261.2" cy="129.8" r="0.9" fill="#f0141e"/>
<circle cx="279.9" cy="124.2" r="0.9" fill="#f0141e"/>
<circle cx="205.7" cy="155.1" r="0.9" fill="#f0141e"/>
<circle cx="208.4" cy="156.4" r="0.9" fill="#f0141e"/>
<circle cx="229.3" cy="154.6" r="0.9" fill="#f0141e"/>
<circle cx="233.7" cy="155.7" r="0.9" fill="#f0141e"/>
<circle cx="239.2" cy="155.7" r="0.9" fill="#f0141e"/>
<circle cx="242.5" cy="158.6" r="0.9" fill="#f0141e"/>
<circle cx="249.1" cy="161.9" r="0.9" fill="#f0141e"/>
<circle cx="257.9" cy="155.7" r="0.9" fill="#f0141e"/>
<circle cx="261.9" cy="156.4" r="0.9" fill="#f0141e"/>
<circle cx="261.2" cy="160.1" r="0.9" fill="#f0141e"/>
<circle cx="258.6" cy="164.5" r="0.9" fill="#f0141e"/>
<circle cx="256.8" cy="166.1" r="0.9" fill="#f0141e"/>
<circle cx="283.9" cy="167.2" r="0.9" fill="#f0141e"/>
<circle cx="279.8" cy="124.2" r="0.9" fill="#f0141e"/>
<circle cx="292.0" cy="129.8" r="0.9" fill="#f0141e"/>
<circle cx="317.9" cy="130.0" r="0.9" fill="#f0141e"/>
<circle cx="299.2" cy="157.5" r="0.9" fill="#f0141e"/>
<circle cx="326.1" cy="156.2" r="0.9" fill="#f0141e"/>
<circle cx="353.6" cy="154.2" r="0.9" fill="#f0141e"/>
<circle cx="350.3" cy="161.9" r="0.9" fill="#f0141e"/>
<circle cx="345.5" cy="162.8" r="0.9" fill="#f0141e"/>
<circle cx="346.6" cy="166.7" r="0.9" fill="#f0141e"/>
<circle cx="296.4" cy="163.9" r="0.9" fill="#f0141e"/>
<circle cx="291.5" cy="165.6" r="0.9" fill="#f0141e"/>
<circle cx="223.8" cy="184.2" r="0.9" fill="#f0141e"/>
<circle cx="229.3" cy="205.7" r="0.9" fill="#f0141e"/>
<circle cx="257.0" cy="165.7" r="0.9" fill="#f0141e"/>
<circle cx="284.2" cy="167.2" r="0.9" fill="#f0141e"/>
<circle cx="291.5" cy="166.1" r="0.9" fill="#f0141e"/>
<circle cx="312.9" cy="167.6" r="0.9" fill="#f0141e"/>
<circle cx="313.5" cy="166.1" r="0.9" fill="#f0141e"/>
<circle cx="324.3" cy="167.6" r="0.9" fill="#f0141e"/>
<circle cx="345.9" cy="166.8" r="0.9" fill="#f0141e"/>
<circle cx="347.0" cy="170.9" r="0.9" fill="#f0141e"/>
<circle cx="353.8" cy="184.4" r="0.9" fill="#f0141e"/>
<circle cx="309.8" cy="200.9" r="0.9" fill="#f0141e"/>
<circle cx="287.1" cy="204.6" r="0.9" fill="#f0141e"/>
<circle cx="300.3" cy="211.7" r="0.9" fill="#f0141e"/>
<circle cx="298.8" cy="215.2" r="0.9" fill="#f0141e"/>
<circle cx="284.2" cy="228.9" r="0.9" fill="#f0141e"/>
<circle cx="335" cy="92.8" r="0.85" fill="#111"/>
<circle cx="335" cy="101" r="0.9" fill="#f0141e"/>
<text x="340.4" y="94.8" font-size="6.4" fill="#222">Inliers</text>
<text x="340.4" y="102.6" font-size="6.4" fill="#222">Outliers</text>
<text transform="translate(181.8,119.4) rotate(-90)" font-size="6.7" fill="#222">Z (m)</text>
<text x="366.3" y="231" font-size="6.4" fill="#222">XY (m)</text>
<text x="183.4" y="124.8" font-size="4.8" fill="#222" text-anchor="end">2</text>
<text x="183.4" y="149.1" font-size="4.8" fill="#222" text-anchor="end">1</text>
<text x="183.4" y="174.39999999999998" font-size="4.8" fill="#222" text-anchor="end">0</text>
<text x="183.4" y="199.7" font-size="4.8" fill="#222" text-anchor="end">−1</text>
<text x="183.4" y="224.0" font-size="4.8" fill="#222" text-anchor="end">−2</text>
<text x="184" y="141.2" font-size="5" fill="#222" text-anchor="end">1.26 m</text>
<text class="ser" x="198" y="244" font-size="5.6" fill="#444" text-anchor="middle">764,500</text>
<text class="ser" x="224.9" y="244" font-size="5.6" fill="#444" text-anchor="middle">765,000</text>
<text class="ser" x="254.2" y="244" font-size="5.6" fill="#444" text-anchor="middle">765,500</text>
<text class="ser" x="279.5" y="244" font-size="5.6" fill="#444" text-anchor="middle">766,000</text>
<text class="ser" x="309.1" y="244" font-size="5.6" fill="#444" text-anchor="middle">766,500</text>
<text class="ser" x="335.6" y="244" font-size="5.6" fill="#444" text-anchor="middle">767,000</text>
<text class="ser" x="364.2" y="244" font-size="5.6" fill="#444" text-anchor="middle">767,500</text>
<text class="ser" x="274" y="252.4" font-size="6" fill="#444" text-anchor="middle">(b)</text>
<g clip-path="url(#clipC)">
<rect x="399.1" y="18.8" width="145.4" height="214.9" fill="#a9a9a9"/>
<ellipse cx="420" cy="40" rx="25" ry="25" fill="#acacac" filter="url(#b8)" opacity="1"/>
<ellipse cx="412" cy="85" rx="14" ry="20" fill="#b0b0b0" filter="url(#b8)" opacity="1"/>
<ellipse cx="415" cy="140" rx="18" ry="35" fill="#c0c0c0" filter="url(#b8)" opacity="1"/>
<ellipse cx="411" cy="135" rx="10" ry="6" fill="#d6d6d6" filter="url(#b3)" opacity="0.9"/>
<ellipse cx="425" cy="120" rx="10" ry="6" fill="#9a9a9a" filter="url(#b3)" opacity="0.8"/>
<ellipse cx="420" cy="205" rx="26" ry="32" fill="#b8b8b8" filter="url(#b8)" opacity="1"/>
<ellipse cx="512" cy="80" rx="24" ry="30" fill="#b0b0b0" filter="url(#b8)" opacity="1"/>
<ellipse cx="516" cy="120" rx="20" ry="15" fill="#acacac" filter="url(#b5)" opacity="1"/>
<ellipse cx="503" cy="95" rx="3" ry="16" fill="#cfcfcf" filter="url(#b1)" opacity="0.7" transform="rotate(35 503 95)"/>
<ellipse cx="497" cy="68" rx="2" ry="10" fill="#c4c4c4" filter="url(#b1)" opacity="0.6" transform="rotate(50 497 68)"/>
<ellipse cx="518" cy="200" rx="28" ry="32" fill="#b2b2b2" filter="url(#b8)" opacity="1"/>
<ellipse cx="500" cy="45" rx="30" ry="20" fill="#a9a9a9" filter="url(#b8)" opacity="1"/>
<ellipse cx="476" cy="70" rx="13" ry="12" fill="#9c9c9c" filter="url(#b5)" opacity="1"/>
<ellipse cx="524" cy="172" rx="14" ry="20" fill="#aaaaaa" filter="url(#b5)" opacity="1"/>
<ellipse cx="527" cy="195" rx="8" ry="6" fill="#c2c2c2" filter="url(#b2)" opacity="0.8"/>
<ellipse cx="537" cy="80" rx="7" ry="50" fill="#ababab" filter="url(#b5)" opacity="1"/>
<polygon points="481.9,103.7 483.9,109.5 485.9,116.3 488.7,120.2 494.6,121.1 496.5,114.3 502.3,113.7 506.8,116.3 508.1,123.0 510.0,126.9 516.9,129.8 523.6,135.5 528.4,143.3 525.2,143.1 516.6,132.5 505.0,124.9 491.5,122.0 481.9,114.3" fill="#808080" filter="url(#b1)" opacity="0.9"/>
<polygon points="456.9,204.5 483.8,186.3 499.2,186.3 501.6,213.2 487.7,231.4 459.8,238.1 456.9,230.4" fill="#9b9b9b" filter="url(#b1)" opacity="1"/>
<polyline points="498.3,187.2 501.6,213.2 487.7,231.4" fill="none" stroke="#c6c6c6" stroke-width="0.9" stroke-linecap="round" stroke-linejoin="round" filter="url(#b05)" opacity="1"/>
<ellipse cx="484" cy="205.5" rx="3" ry="2.2" fill="#505050" filter="url(#b05)" opacity="0.9"/>
<ellipse cx="474" cy="222" rx="1.2" ry="1" fill="#666" filter="url(#b05)" opacity="0.8"/>
<rect x="399.1" y="18.8" width="145.4" height="214.9" filter="url(#mottleW)" opacity="0.5"/>
<rect x="399.1" y="18.8" width="145.4" height="214.9" filter="url(#mottleK)" opacity="0.45"/>
<ellipse cx="424" cy="113.5" rx="2.6" ry="1.8" fill="#5a5a5a" filter="url(#b05)" opacity="0.9"/>
<g mask="url(#mStreakC)"><rect x="250" y="-150" width="450" height="450" filter="url(#streakC)" transform="rotate(-55 470 90)" opacity="0.28"/></g>
<ellipse cx="448" cy="48" rx="14" ry="24" fill="#888888" filter="url(#b5)" opacity="0.7" transform="rotate(20 448 48)"/>
<polygon points="454.9,22.7 458.8,22.2 459.8,27.0 462.7,30.8 461.7,36.6 459.8,41.4 455.9,46.2 452.1,50.0 448.2,52.9 447.2,57.7 449.2,61.5 452.1,67.3 452.1,82.6 453.5,90.3 454.9,98.0 456.9,103.7 460.7,108.5 454.9,111.4 450.1,109.5 449.2,101.8 448.7,92.2 447.2,87.4 443.4,85.5 440.5,79.8 439.5,75.0 436.7,69.2 435.7,67.3 432.8,62.5 428.0,60.6 428.9,55.8 428.9,51.0 431.8,50.0 436.7,50.0 438.6,46.6 442.4,44.2 445.9,39.4 447.2,33.7 449.7,29.4 454.0,26.0" fill="#545454" filter="url(#b1)" opacity="1"/>
<ellipse cx="454.5" cy="37" rx="4.5" ry="10" fill="#3a3a3a" filter="url(#b2)" opacity="0.9" transform="rotate(15 454.5 37)"/>
<ellipse cx="441" cy="60" rx="5" ry="8" fill="#4e4e4e" filter="url(#b2)" opacity="0.9" transform="rotate(-20 441 60)"/>
<ellipse cx="440" cy="54" rx="4" ry="4" fill="#505050" filter="url(#b2)" opacity="0.9"/>
<polyline points="440.5,63.4 444.4,76.9 449.7,90.3 453.0,103.7 456.9,109.5" fill="none" stroke="#363636" stroke-width="2.6" stroke-linecap="round" stroke-linejoin="round" filter="url(#b05)" opacity="1"/>
<polygon points="458.8,65.4 471.3,63.9 473.2,71.1 470.4,75.9 457.8,82.2 455.4,76.9 456.9,69.2" fill="#7c7c7c" filter="url(#b1)" opacity="0.9"/>
<polygon points="528.6,149.8 531.0,160.4 528.4,161.9 523.6,163.8 517.5,167.7 517.1,172.4 511.0,174.3 504.1,175.3 500.2,176.7 504.1,170.9 510.8,167.6 517.5,163.7 524.3,158.5 527.2,153.7" fill="#3e3e3e" filter="url(#b1)" opacity="0.9"/>
<polygon points="473.7,104.7 475.7,99.4 479.0,95.9 481.9,96.5 483.1,100.4 481.4,105.2" fill="#343434" filter="url(#b05)" opacity="1"/>
<polygon points="442.4,150.8 446.3,147.9 450.1,136.4 454.9,124.9 458.8,113.3 460.7,108.5 465.5,107.1 468.4,106.6 469.9,104.7 472.3,103.4 474.7,105.7 476.1,103.6 479.0,103.7 480.9,107.6 480.9,113.3 485.8,118.1 491.5,121.0 498.3,122.5 505.0,123.9 510.8,127.7 516.6,131.6 521.4,136.4 525.2,142.1 527.2,147.9 528.6,151.7 527.2,155.6 524.3,159.4 517.5,164.7 510.8,168.5 504.1,171.9 500.2,176.7 499.2,182.4 500.2,186.3 495.4,190.1 483.8,190.6 474.2,189.2 466.5,189.6 460.7,194.9 457.4,204.5 455.4,214.1 454.9,220.8 454.9,229.5 452.1,231.0 448.2,229.5 446.3,225.6 444.4,218.9 442.4,210.3 440.1,204.5 437.6,199.7 434.7,197.4 428.9,197.8 424.1,195.9 418.4,193.0 415.5,188.2 417.4,184.4 421.2,178.6 424.1,174.8 423.2,170.0 424.1,166.1 432.8,165.8 436.7,164.2 435.7,161.3 435.7,154.6 440.5,150.8" fill="#2b2b2b" filter="url(#b05)" opacity="1"/>
<polygon points="451.1,109.5 460.7,108.1 465.5,107.1 472.3,108.1 474.7,111.4 470.4,116.2 464.6,120.5 461.2,124.9 457.8,132.5 454.5,142.1 451.1,151.7 445.3,153.7 442.4,151.7 446.3,147.9 450.1,136.4 454.9,124.9 456.9,115.3" fill="#363636" filter="url(#b05)" opacity="1"/>
<polygon points="462.2,122.5 465.5,120.5 468.4,121.0 466.0,127.7 460.7,137.3 455.9,146.9 453.0,152.7 448.7,150.8 451.1,143.1 455.4,132.5" fill="#888888" filter="url(#b05)" opacity="1"/>
<ellipse cx="478" cy="150" rx="20" ry="14" fill="#323232" filter="url(#b5)" opacity="0.8"/>
<ellipse cx="498" cy="140" rx="10" ry="10" fill="#2a2a2a" filter="url(#b5)" opacity="0.8"/>
<ellipse cx="501" cy="156" rx="5" ry="2.5" fill="#1a1a1a" filter="url(#b2)" opacity="0.8"/>
<ellipse cx="468" cy="176" rx="12" ry="8" fill="#363636" filter="url(#b3)" opacity="0.8"/>
<ellipse cx="490" cy="172" rx="10" ry="5" fill="#383838" filter="url(#b3)" opacity="0.8"/>
<polygon points="480.0,172.9 499.5,178.2 500.4,184.6 480.4,180.0" fill="#606060" opacity="1"/>
</g>
<rect x="399.1" y="18.8" width="145.4" height="214.9" filter="url(#noiseC)" opacity="0.10"/>
<rect x="399.1" y="18.8" width="145.4" height="214.9" filter="url(#noiseD)" opacity="0.10"/>
<polygon points="455.1,22.7 458.7,22.2 459.5,26.6 462.6,30.9 462.0,37.0 460.1,41.5 456.1,46.3 452.3,49.7 447.8,51.1 444.5,55.0 445.9,57.3 450.3,56.3 455.1,54.6 459.5,55.0 458.7,58.8 453.2,58.3 452.3,61.3 459.1,63.1 462.9,62.1 466.8,63.4 471.6,62.5 472.6,67.8 474.9,71.1 471.6,72.1 471.6,75.6 463.9,79.8 455.1,84.6 452.3,82.3 452.8,87.5 453.2,96.2 455.1,100.1 459.5,101.4 461.4,96.2 457.1,93.7 459.5,90.4 463.9,92.9 467.8,91.4 469.1,96.2 468.3,103.9 470.6,105.3 474.1,103.4 475.5,98.2 478.3,94.2 482.3,95.6 485.2,100.1 487.7,103.0 484.2,105.9 483.9,109.5 485.9,116.3 488.7,120.2 494.6,121.1 496.5,114.3 502.3,113.7 506.8,116.3 508.1,123.0 510.0,126.9 516.9,129.8 518.8,132.6 523.6,135.5 526.5,139.4 528.4,143.3 526.9,147.1 529.4,151.7 528.4,155.6 532.3,160.5 528.4,162.4 523.6,164.3 517.8,168.1 517.8,173.9 511.0,175.4 506.2,175.8 502.3,177.7 499.5,178.0 479.6,172.5 480.1,180.2 496.8,183.6 500.6,184.8 501.4,186.5 496.5,188.4 490.7,190.1 486.8,192.0 483.9,195.9 482.3,200.7 488.1,201.6 490.6,204.6 491.0,209.4 486.1,209.4 480.3,207.1 474.5,204.6 465.8,207.1 460.1,206.5 459.1,209.4 463.9,211.7 469.7,214.2 474.1,216.1 473.5,220.6 467.8,220.9 465.8,217.1 462.0,215.2 457.1,213.3 454.8,214.2 453.6,219.0 454.8,224.8 455.1,229.7 452.3,231.0 448.4,229.7 446.5,225.7 444.5,219.0 442.6,210.4 440.1,204.6 437.8,199.7 434.9,197.4 429.0,197.8 424.2,195.9 418.5,193.0 415.6,188.4 417.5,184.6 421.3,178.7 424.2,174.9 423.3,170.1 424.2,166.2 432.9,165.8 436.8,164.3 435.5,161.4 435.9,154.6 440.7,150.8 444.5,149.0 445.1,143.3 442.0,138.0 439.7,132.6 440.1,126.5 435.9,123.0 432.9,120.2 426.2,116.3 422.3,117.3 421.3,111.4 427.1,111.0 431.0,115.3 434.9,117.3 438.8,112.4 442.0,109.5 443.6,108.7 445.5,105.3 449.0,105.9 449.4,102.0 449.0,92.3 447.8,87.1 443.6,85.2 440.7,79.8 439.7,75.0 436.8,69.2 435.9,67.3 432.9,62.9 428.1,60.6 427.5,59.8 429.0,55.9 428.7,51.1 431.9,49.7 436.8,50.1 438.2,46.6 442.6,44.3 445.9,39.5 447.1,33.8 449.7,29.4 454.2,26.0" fill="none" stroke="#f41ce6" stroke-width="1.0" stroke-linejoin="round"/>
<polygon points="455.5,23.3 459.1,23.1 460.1,27.0 463.2,31.2 462.7,37.3 460.7,41.9 456.7,46.9 452.6,50.5 448.4,51.9 445.3,55.3 446.3,58.6 445.3,63.4 443.4,69.2 443.9,75.9 446.3,82.6 449.7,88.4 451.6,95.1 452.1,101.8 454.0,104.7 458.8,102.8 462.7,104.7 468.9,104.5 470.8,106.0 474.4,104.0 475.9,98.8 478.6,94.9 482.5,96.3 485.6,100.5 488.3,103.2 484.8,106.2 484.6,109.7 486.5,116.2 489.2,119.7 494.2,120.4 496.2,113.7 502.5,113.2 507.3,116.0 508.8,122.9 510.6,126.4 517.3,129.2 519.5,132.2 524.2,135.0 527.2,139.1 529.1,143.3 527.6,147.1 530.1,151.7 529.1,155.6 532.9,160.7 528.7,163.1 523.9,165.0 518.5,168.6 518.5,174.4 511.2,176.1 506.4,176.5 502.5,178.4 499.2,179.0 480.9,173.8 481.1,179.4 495.4,183.0 487.7,185.5 476.1,186.7 467.1,189.0 461.7,195.3 460.7,199.7 463.6,203.6 460.7,207.9 457.8,213.6 462.3,216.0 465.5,218.0 467.5,221.6 463.6,220.8 458.8,216.0 455.7,215.1 454.4,219.3 455.5,224.9 455.9,230.1 452.4,231.8 448.0,230.4 445.9,226.0 444.0,219.3 442.0,210.7 439.5,205.1 437.4,200.3 434.7,198.2 428.9,198.6 423.9,196.7 418.0,193.6 414.9,188.6 416.8,184.4 420.7,178.4 423.6,174.8 422.6,170.0 423.8,165.6 432.8,165.2 436.1,164.0 434.7,161.5 435.1,154.2 440.3,150.2 443.8,148.7 444.4,143.5 441.3,138.3 439.0,132.7 439.3,126.8 435.3,123.5 432.3,120.8 429.9,118.1 434.3,116.2 438.2,111.8 441.7,108.9 443.4,108.0 445.3,104.5 448.2,104.1 448.2,101.8 448.0,92.6 446.9,87.8 442.8,85.9 439.9,80.1 439.0,75.3 436.1,69.6 435.1,67.7 432.3,63.4 429.4,61.7 430.1,56.1 429.7,51.9 432.2,50.6 437.4,51.0 438.8,47.3 443.2,45.0 446.7,39.8 447.8,34.1 450.3,29.8 454.8,26.6" fill="none" stroke="#22e05a" stroke-width="1.1" stroke-linejoin="round" transform="translate(0.9,0.5)" stroke-dasharray="6 1 3.5 0.8 8 1.2"/>
<polyline points="444.5,55.0 445.9,57.3 450.3,56.3 455.1,54.6 459.5,55.0 458.7,58.8 453.2,58.3 452.3,61.3 459.1,63.1 462.9,62.1 466.8,63.4 471.6,62.5 472.6,67.8 474.9,71.1 471.6,72.1 471.6,75.6 463.9,79.8 455.1,84.6 452.3,82.3 452.8,87.5" fill="none" stroke="#fb1ced" stroke-width="1.3" stroke-linejoin="round" stroke-linecap="round"/>
<polyline points="453.2,96.2 455.1,100.1 459.5,101.4 461.4,96.2 457.1,93.7 459.5,90.4 463.9,92.9 467.8,91.4 469.1,96.2 468.3,103.9 470.6,105.3 474.1,103.4 475.5,98.2 478.3,94.2 482.3,95.6 485.2,100.1 487.7,103.0 484.2,105.9 483.9,109.5" fill="none" stroke="#fb1ced" stroke-width="1.3" stroke-linejoin="round" stroke-linecap="round"/>
<polyline points="488.7,120.2 494.6,121.1 496.5,114.3 502.3,113.7 506.8,116.3 508.1,123.0" fill="none" stroke="#fb1ced" stroke-width="1.3" stroke-linejoin="round" stroke-linecap="round"/>
<polyline points="499.5,178.0 479.6,172.5 480.1,180.2 496.8,183.6 500.6,184.8 501.4,186.5 496.5,188.4 490.7,190.1 486.8,192.0 483.9,195.9 482.3,200.7 488.1,201.6 490.6,204.6 491.0,209.4 486.1,209.4 480.3,207.1 474.5,204.6 465.8,207.1 460.1,206.5 459.1,209.4 463.9,211.7 469.7,214.2 474.1,216.1 473.5,220.6 467.8,220.9 465.8,217.1 462.0,215.2 457.1,213.3 454.8,214.2" fill="none" stroke="#fb1ced" stroke-width="1.3" stroke-linejoin="round" stroke-linecap="round"/>
<polyline points="440.1,126.5 435.9,123.0 432.9,120.2 426.2,116.3 422.3,117.3 421.3,111.4 427.1,111.0 431.0,115.3 434.9,117.3 438.8,112.4 442.0,109.5 443.6,108.7 445.5,105.3 449.0,105.9 449.4,102.0" fill="none" stroke="#fb1ced" stroke-width="1.3" stroke-linejoin="round" stroke-linecap="round"/>
<polyline points="428.1,60.6 427.5,59.8 429.0,55.9 428.7,51.1 431.9,49.7 436.8,50.1" fill="none" stroke="#fb1ced" stroke-width="1.3" stroke-linejoin="round" stroke-linecap="round"/>
<rect x="421" y="8.4" width="86" height="4.6" fill="url(#cbar)"/>
<text class="ser" x="407" y="12.4" font-size="5.2" fill="#444">5. 4</text>
<text class="ser" x="519.5" y="12.2" font-size="5.2" fill="#444">−3. 7 m</text>
<line x1="485.3" y1="30.6" x2="500.5" y2="30.6" stroke="#fb1ced" stroke-width="2"/>
<line x1="485.3" y1="38.1" x2="500.5" y2="38.1" stroke="#22e05a" stroke-width="2"/>
<text x="503.7" y="32.9" font-size="6.2" fill="#f4f4f4">NDWI</text>
<text x="503.7" y="40.4" font-size="6.2" fill="#f4f4f4">Isobath(NDWI</text>
<text transform="translate(8.6,41) rotate(-90)" font-size="6" fill="#262626" text-anchor="middle">23.77°N</text>
<line x1="10.6" y1="41" x2="12" y2="41" stroke="#555" stroke-width="0.5"/>
<text transform="translate(8.6,87.5) rotate(-90)" font-size="6" fill="#262626" text-anchor="middle">23.76°N</text>
<line x1="10.6" y1="87.5" x2="12" y2="87.5" stroke="#555" stroke-width="0.5"/>
<text transform="translate(8.6,133.5) rotate(-90)" font-size="6" fill="#262626" text-anchor="middle">23.75°N</text>
<line x1="10.6" y1="133.5" x2="12" y2="133.5" stroke="#555" stroke-width="0.5"/>
<text transform="translate(8.6,179.5) rotate(-90)" font-size="6" fill="#262626" text-anchor="middle">23.74°N</text>
<line x1="10.6" y1="179.5" x2="12" y2="179.5" stroke="#555" stroke-width="0.5"/>
<text transform="translate(8.6,225) rotate(-90)" font-size="6" fill="#262626" text-anchor="middle">23.73°N</text>
<line x1="10.6" y1="225" x2="12" y2="225" stroke="#555" stroke-width="0.5"/>
<text x="52.6" y="243.5" font-size="5.7" fill="#262626" text-anchor="middle">119.60°E</text>
<line x1="52.6" y1="235.4" x2="52.6" y2="236.9" stroke="#555" stroke-width="0.5"/>
<text x="94.4" y="243.5" font-size="5.7" fill="#262626" text-anchor="middle">119.61°E</text>
<line x1="94.4" y1="235.4" x2="94.4" y2="236.9" stroke="#555" stroke-width="0.5"/>
<text x="136.2" y="243.5" font-size="5.7" fill="#262626" text-anchor="middle">119.62°E</text>
<line x1="136.2" y1="235.4" x2="136.2" y2="236.9" stroke="#555" stroke-width="0.5"/>
<text class="ser" x="64" y="251.6" font-size="6" fill="#666" text-anchor="middle">(a)</text>
<text transform="translate(396,46.2) rotate(-90)" font-size="6" fill="#262626" text-anchor="middle">23.77°N</text>
<line x1="397.6" y1="46.2" x2="399" y2="46.2" stroke="#555" stroke-width="0.5"/>
<text transform="translate(396,90.8) rotate(-90)" font-size="6" fill="#262626" text-anchor="middle">23.76°N</text>
<line x1="397.6" y1="90.8" x2="399" y2="90.8" stroke="#555" stroke-width="0.5"/>
<text transform="translate(396,134.5) rotate(-90)" font-size="6" fill="#262626" text-anchor="middle">23.75°N</text>
<line x1="397.6" y1="134.5" x2="399" y2="134.5" stroke="#555" stroke-width="0.5"/>
<text transform="translate(396,179.5) rotate(-90)" font-size="6" fill="#262626" text-anchor="middle">23.74°N</text>
<line x1="397.6" y1="179.5" x2="399" y2="179.5" stroke="#555" stroke-width="0.5"/>
<text transform="translate(396,223.6) rotate(-90)" font-size="6" fill="#262626" text-anchor="middle">23.73°N</text>
<line x1="397.6" y1="223.6" x2="399" y2="223.6" stroke="#555" stroke-width="0.5"/>
<text x="438.4" y="241.6" font-size="5.7" fill="#262626" text-anchor="middle">119.60°E</text>
<line x1="438.4" y1="233.7" x2="438.4" y2="235.1" stroke="#555" stroke-width="0.5"/>
<text x="480.5" y="241.6" font-size="5.7" fill="#262626" text-anchor="middle">119.61°E</text>
<line x1="480.5" y1="233.7" x2="480.5" y2="235.1" stroke="#555" stroke-width="0.5"/>
<text x="522.5" y="241.6" font-size="5.7" fill="#262626" text-anchor="middle">119.62°E</text>
<line x1="522.5" y1="233.7" x2="522.5" y2="235.1" stroke="#555" stroke-width="0.5"/>
<text class="ser" x="472" y="251.8" font-size="6" fill="#666" text-anchor="middle">(c)</text>
</svg>
</body></html>
